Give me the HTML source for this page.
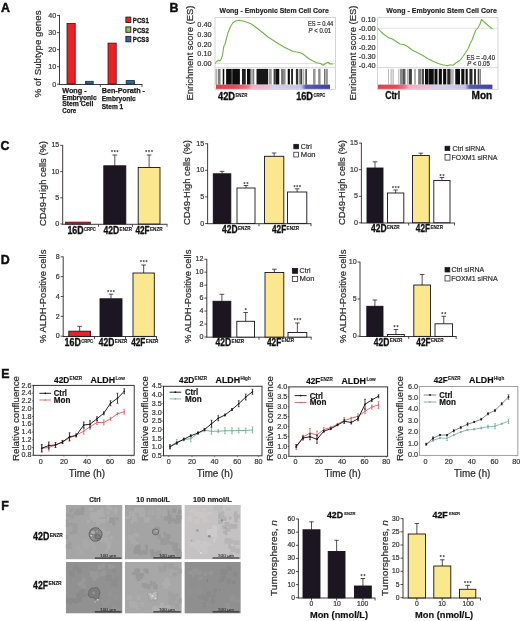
<!DOCTYPE html>
<html lang="en"><head><meta charset="utf-8"><title>Figure: stem cell signatures, CD49 / ALDH, confluence and tumorspheres</title>
<style>html,body{margin:0;padding:0;background:#fff}body{width:520px;height:621px;overflow:hidden}svg{display:block;font-family:"Liberation Sans", sans-serif}</style></head><body>
<svg width="520" height="621" viewBox="0 0 520 621">
<defs>
<linearGradient id="gbar1" x1="0" x2="1" y1="0" y2="0"><stop offset="0.000" stop-color="#e0404b"/><stop offset="0.175" stop-color="#e44c58"/><stop offset="0.281" stop-color="#ea7886"/><stop offset="0.316" stop-color="#f0b0c6"/><stop offset="0.456" stop-color="#efbbd0"/><stop offset="0.500" stop-color="#d6cfe8"/><stop offset="0.746" stop-color="#c6c4e4"/><stop offset="0.789" stop-color="#5557b4"/><stop offset="1.000" stop-color="#3f41a6"/></linearGradient>
<linearGradient id="gbar2" x1="0" x2="1" y1="0" y2="0"><stop offset="0.000" stop-color="#e0404b"/><stop offset="0.157" stop-color="#e44c58"/><stop offset="0.236" stop-color="#ea7886"/><stop offset="0.271" stop-color="#f0b0c6"/><stop offset="0.437" stop-color="#efbbd0"/><stop offset="0.490" stop-color="#d6cfe8"/><stop offset="0.760" stop-color="#c6c4e4"/><stop offset="0.804" stop-color="#5557b4"/><stop offset="1.000" stop-color="#3f41a6"/></linearGradient>
<filter id="soft" x="-5%" y="-5%" width="110%" height="110%"><feGaussianBlur stdDeviation="0.35"/></filter>
<filter id="blob" x="-20%" y="-20%" width="140%" height="140%"><feGaussianBlur stdDeviation="0.7"/></filter>
<filter id="blob2" x="-20%" y="-20%" width="140%" height="140%"><feGaussianBlur stdDeviation="0.5"/></filter>
</defs>
<rect width="520" height="621" fill="#fff"/>
<g filter="url(#soft)">
<g id="panelA">
<text x="0.90" y="11.90" font-size="12.4" font-weight="bold" fill="#0c0c0c" stroke="#0c0c0c" stroke-width="0.45">A</text>
<text x="40.62" y="54.00" font-size="9.3" text-anchor="middle" textLength="87.00" lengthAdjust="spacingAndGlyphs" fill="#2b2b2b" stroke="#2b2b2b" stroke-width="0.22" transform="rotate(-90 40.62 54.00)">% of Subtype genes</text>
<line x1="59.50" y1="14.90" x2="59.50" y2="84.80" stroke="#2a2627" stroke-width="0.9"/>
<line x1="57.00" y1="15.50" x2="59.50" y2="15.50" stroke="#2a2627" stroke-width="0.8"/>
<text x="56.10" y="18.22" font-size="8" text-anchor="end" textLength="7.92" lengthAdjust="spacingAndGlyphs" fill="#333" stroke="#333" stroke-width="0.22">40</text>
<line x1="57.00" y1="32.60" x2="59.50" y2="32.60" stroke="#2a2627" stroke-width="0.8"/>
<text x="56.10" y="35.32" font-size="8" text-anchor="end" textLength="7.92" lengthAdjust="spacingAndGlyphs" fill="#333" stroke="#333" stroke-width="0.22">30</text>
<line x1="57.00" y1="49.70" x2="59.50" y2="49.70" stroke="#2a2627" stroke-width="0.8"/>
<text x="56.10" y="52.42" font-size="8" text-anchor="end" textLength="7.92" lengthAdjust="spacingAndGlyphs" fill="#333" stroke="#333" stroke-width="0.22">20</text>
<line x1="57.00" y1="66.70" x2="59.50" y2="66.70" stroke="#2a2627" stroke-width="0.8"/>
<text x="56.10" y="69.42" font-size="8" text-anchor="end" textLength="7.92" lengthAdjust="spacingAndGlyphs" fill="#333" stroke="#333" stroke-width="0.22">10</text>
<line x1="57.00" y1="84.20" x2="59.50" y2="84.20" stroke="#2a2627" stroke-width="0.8"/>
<text x="56.10" y="86.92" font-size="8" text-anchor="end" textLength="3.96" lengthAdjust="spacingAndGlyphs" fill="#333" stroke="#333" stroke-width="0.22">0</text>
<line x1="59.00" y1="84.50" x2="142.40" y2="84.50" stroke="#2a2627" stroke-width="0.9"/>
<line x1="100.30" y1="84.50" x2="100.30" y2="87.00" stroke="#2a2627" stroke-width="0.8"/>
<line x1="142.00" y1="84.50" x2="142.00" y2="87.00" stroke="#2a2627" stroke-width="0.8"/>
<rect x="67.00" y="23.40" width="8.20" height="60.60" fill="#ea2227" stroke="#3b1515" stroke-width="0.8"/>
<rect x="85.60" y="81.30" width="7.60" height="2.70" fill="#2d6b98" stroke="#12283a" stroke-width="0.8"/>
<rect x="108.00" y="43.10" width="8.20" height="40.90" fill="#ea2227" stroke="#3b1515" stroke-width="0.8"/>
<rect x="126.20" y="80.60" width="8.20" height="3.40" fill="#2d6b98" stroke="#12283a" stroke-width="0.8"/>
<rect x="125.90" y="17.10" width="4.90" height="5.40" fill="#ea2227" stroke="#2a1a1a" stroke-width="0.9"/>
<text x="132.80" y="22.70" font-size="7.2" font-weight="bold" textLength="16.00" lengthAdjust="spacingAndGlyphs" fill="#161616" stroke="#161616" stroke-width="0.3">PCS1</text>
<rect x="125.90" y="26.90" width="4.90" height="5.40" fill="#8cc152" stroke="#2a1a1a" stroke-width="0.9"/>
<text x="132.80" y="32.50" font-size="7.2" font-weight="bold" textLength="16.00" lengthAdjust="spacingAndGlyphs" fill="#161616" stroke="#161616" stroke-width="0.3">PCS2</text>
<rect x="125.90" y="36.40" width="4.90" height="5.40" fill="#2d6b98" stroke="#2a1a1a" stroke-width="0.9"/>
<text x="132.80" y="42.00" font-size="7.2" font-weight="bold" textLength="16.00" lengthAdjust="spacingAndGlyphs" fill="#161616" stroke="#161616" stroke-width="0.3">PCS3</text>
<text x="62.20" y="92.60" font-size="7.5" font-weight="bold" textLength="24.50" lengthAdjust="spacingAndGlyphs" fill="#161616" stroke="#161616" stroke-width="0.25">Wong -</text>
<text x="62.20" y="99.50" font-size="7.5" font-weight="bold" textLength="34.40" lengthAdjust="spacingAndGlyphs" fill="#161616" stroke="#161616" stroke-width="0.25">Embryonic</text>
<text x="62.20" y="106.40" font-size="7.5" font-weight="bold" textLength="31.20" lengthAdjust="spacingAndGlyphs" fill="#161616" stroke="#161616" stroke-width="0.25">Stem Cell</text>
<text x="62.20" y="113.30" font-size="7.5" font-weight="bold" textLength="14.00" lengthAdjust="spacingAndGlyphs" fill="#161616" stroke="#161616" stroke-width="0.25">Core</text>
<text x="101.70" y="93.40" font-size="7.5" font-weight="bold" textLength="43.30" lengthAdjust="spacingAndGlyphs" fill="#161616" stroke="#161616" stroke-width="0.25">Ben-Porath -</text>
<text x="101.70" y="101.20" font-size="7.5" font-weight="bold" textLength="34.00" lengthAdjust="spacingAndGlyphs" fill="#161616" stroke="#161616" stroke-width="0.25">Embryonic</text>
<text x="101.70" y="109.00" font-size="7.5" font-weight="bold" textLength="21.50" lengthAdjust="spacingAndGlyphs" fill="#161616" stroke="#161616" stroke-width="0.25">Stem 1</text>
</g>
<text x="169.60" y="11.90" font-size="12.4" font-weight="bold" fill="#0c0c0c" stroke="#0c0c0c" stroke-width="0.45">B</text>
<g id="panelB1">
<text x="193.37" y="53.00" font-size="9.9" text-anchor="middle" textLength="95.00" lengthAdjust="spacingAndGlyphs" fill="#2b2b2b" stroke="#2b2b2b" stroke-width="0.22" transform="rotate(-90 193.37 53.00)">Enrichment score (ES)</text>
<text x="211.60" y="26.55" font-size="8" text-anchor="end" textLength="14.30" lengthAdjust="spacingAndGlyphs" fill="#333" stroke="#333" stroke-width="0.22">0.40</text>
<text x="211.60" y="36.55" font-size="8" text-anchor="end" textLength="14.30" lengthAdjust="spacingAndGlyphs" fill="#333" stroke="#333" stroke-width="0.22">0.30</text>
<text x="211.60" y="46.50" font-size="8" text-anchor="end" textLength="14.30" lengthAdjust="spacingAndGlyphs" fill="#333" stroke="#333" stroke-width="0.22">0.20</text>
<text x="211.60" y="56.40" font-size="8" text-anchor="end" textLength="14.30" lengthAdjust="spacingAndGlyphs" fill="#333" stroke="#333" stroke-width="0.22">0.10</text>
<text x="211.60" y="66.30" font-size="8" text-anchor="end" textLength="14.30" lengthAdjust="spacingAndGlyphs" fill="#333" stroke="#333" stroke-width="0.22">0.00</text>
<rect x="215.00" y="17.50" width="120.50" height="72.10" fill="none" stroke="#c4c4c4" stroke-width="0.7"/>
<line x1="215.00" y1="67.60" x2="335.50" y2="67.60" stroke="#c9c9c9" stroke-width="0.7"/>
<line x1="215.00" y1="63.50" x2="335.50" y2="63.50" stroke="#cfcfcf" stroke-width="0.6"/>
<text x="219.50" y="13.00" font-size="7.8" font-weight="bold" textLength="109.30" lengthAdjust="spacingAndGlyphs" fill="#222" stroke="#222" stroke-width="0.18">Wong - Embyonic Stem Cell Core</text>
<rect x="215.50" y="68.9" width="1.90" height="15.8" fill="#101010" opacity="0.30"/>
<rect x="218.00" y="68.9" width="2.50" height="15.8" fill="#101010" opacity="0.55"/>
<rect x="222.75" y="68.9" width="1.50" height="15.8" fill="#101010" opacity="1.00"/>
<rect x="226.10" y="68.9" width="5.65" height="15.8" fill="#101010" opacity="1.00"/>
<rect x="231.75" y="68.9" width="1.25" height="15.8" fill="#101010" opacity="0.80"/>
<rect x="233.00" y="68.9" width="6.90" height="15.8" fill="#101010" opacity="1.00"/>
<rect x="242.00" y="68.9" width="3.75" height="15.8" fill="#101010" opacity="0.92"/>
<rect x="247.00" y="68.9" width="3.50" height="15.8" fill="#101010" opacity="1.00"/>
<rect x="250.50" y="68.9" width="1.50" height="15.8" fill="#101010" opacity="0.35"/>
<rect x="252.40" y="68.9" width="1.85" height="15.8" fill="#101010" opacity="0.55"/>
<rect x="256.50" y="68.9" width="11.50" height="15.8" fill="#101010" opacity="0.96"/>
<rect x="268.60" y="68.9" width="3.15" height="15.8" fill="#101010" opacity="0.40"/>
<rect x="273.60" y="68.9" width="1.90" height="15.8" fill="#101010" opacity="0.80"/>
<rect x="275.50" y="68.9" width="3.75" height="15.8" fill="#101010" opacity="1.00"/>
<rect x="281.10" y="68.9" width="1.90" height="15.8" fill="#101010" opacity="0.60"/>
<rect x="283.00" y="68.9" width="2.50" height="15.8" fill="#101010" opacity="0.50"/>
<rect x="287.75" y="68.9" width="2.15" height="15.8" fill="#101010" opacity="1.00"/>
<rect x="291.10" y="68.9" width="1.90" height="15.8" fill="#101010" opacity="0.90"/>
<rect x="295.90" y="68.9" width="2.10" height="15.8" fill="#101010" opacity="0.85"/>
<rect x="298.60" y="68.9" width="1.30" height="15.8" fill="#101010" opacity="0.50"/>
<rect x="300.25" y="68.9" width="1.75" height="15.8" fill="#101010" opacity="0.80"/>
<rect x="302.40" y="68.9" width="1.85" height="15.8" fill="#101010" opacity="0.30"/>
<rect x="305.25" y="68.9" width="1.75" height="15.8" fill="#101010" opacity="0.70"/>
<rect x="313.00" y="68.9" width="2.50" height="15.8" fill="#101010" opacity="0.45"/>
<rect x="318.25" y="68.9" width="2.25" height="15.8" fill="#101010" opacity="0.50"/>
<rect x="324.00" y="68.9" width="1.50" height="15.8" fill="#101010" opacity="0.60"/>
<rect x="326.10" y="68.9" width="1.65" height="15.8" fill="#101010" opacity="0.50"/>
<rect x="216.00" y="84.60" width="114.00" height="4.30" fill="url(#gbar1)" stroke="none" stroke-width="0.8"/>
<polyline points="215.00,63.50 216.75,61.50 218.50,60.25 220.00,61.00 221.25,59.00 222.50,55.25 223.75,46.50 225.00,44.00 226.00,40.25 228.00,32.75 230.50,26.50 233.00,22.75 235.50,21.00 239.25,20.25 243.00,21.00 246.75,22.25 250.50,23.50 254.25,26.00 258.00,29.00 263.00,32.75 268.00,37.00 273.00,40.25 278.00,43.50 283.00,46.50 288.00,49.00 293.00,51.50 298.00,52.25 301.75,53.25 305.50,56.00 309.25,59.00 313.00,61.00 316.75,62.75 320.50,63.50 323.00,65.25 325.50,63.50 328.00,62.25 330.00,64.00 333.00,64.00" fill="none" stroke="#6fb544" stroke-width="1.1" stroke-linejoin="round"/>
<text x="308.00" y="26.30" font-size="6.4" textLength="25.30" lengthAdjust="spacingAndGlyphs" fill="#333" stroke="#333" stroke-width="0.22">ES = 0.44</text>
<text x="308.60" y="33.30" font-size="6.4" textLength="22.50" lengthAdjust="spacingAndGlyphs" fill="#333" stroke="#333" stroke-width="0.22"><tspan font-style="italic">P</tspan> &lt; 0.01</text>
<text x="218.00" y="100.30" font-size="10" font-weight="bold" textLength="17.00" lengthAdjust="spacingAndGlyphs" fill="#0e0e0e" stroke="#0e0e0e" stroke-width="0.3">42D</text>
<text x="235.40" y="97.00" font-size="4.9" font-weight="bold" textLength="12.00" lengthAdjust="spacingAndGlyphs" fill="#1c1c1c" stroke="#1c1c1c" stroke-width="0.15">ENZR</text>
<text x="296.20" y="100.30" font-size="10" font-weight="bold" textLength="16.80" lengthAdjust="spacingAndGlyphs" fill="#0e0e0e" stroke="#0e0e0e" stroke-width="0.3">16D</text>
<text x="313.40" y="97.00" font-size="4.9" font-weight="bold" textLength="11.80" lengthAdjust="spacingAndGlyphs" fill="#1c1c1c" stroke="#1c1c1c" stroke-width="0.15">CRPC</text>
</g>
<g id="panelB2">
<text x="356.37" y="53.00" font-size="9.9" text-anchor="middle" textLength="95.00" lengthAdjust="spacingAndGlyphs" fill="#2b2b2b" stroke="#2b2b2b" stroke-width="0.22" transform="rotate(-90 356.37 53.00)">Enrichment score (ES)</text>
<text x="375.60" y="22.30" font-size="8" text-anchor="end" textLength="14.30" lengthAdjust="spacingAndGlyphs" fill="#333" stroke="#333" stroke-width="0.22">0.10</text>
<text x="375.60" y="31.05" font-size="8" text-anchor="end" textLength="16.80" lengthAdjust="spacingAndGlyphs" fill="#333" stroke="#333" stroke-width="0.22">-0.00</text>
<text x="375.60" y="40.30" font-size="8" text-anchor="end" textLength="16.80" lengthAdjust="spacingAndGlyphs" fill="#333" stroke="#333" stroke-width="0.22">-0.10</text>
<text x="375.60" y="49.55" font-size="8" text-anchor="end" textLength="16.80" lengthAdjust="spacingAndGlyphs" fill="#333" stroke="#333" stroke-width="0.22">-0.20</text>
<text x="375.60" y="58.80" font-size="8" text-anchor="end" textLength="16.80" lengthAdjust="spacingAndGlyphs" fill="#333" stroke="#333" stroke-width="0.22">-0.30</text>
<text x="375.60" y="68.20" font-size="8" text-anchor="end" textLength="16.80" lengthAdjust="spacingAndGlyphs" fill="#333" stroke="#333" stroke-width="0.22">-0.40</text>
<rect x="377.50" y="17.50" width="120.50" height="72.10" fill="none" stroke="#c4c4c4" stroke-width="0.7"/>
<line x1="377.50" y1="67.60" x2="498.00" y2="67.60" stroke="#c9c9c9" stroke-width="0.7"/>
<line x1="377.50" y1="28.30" x2="498.00" y2="28.30" stroke="#cfcfcf" stroke-width="0.6"/>
<text x="386.30" y="12.60" font-size="7.8" font-weight="bold" textLength="110.50" lengthAdjust="spacingAndGlyphs" fill="#222" stroke="#222" stroke-width="0.18">Wong - Embyonic Stem Cell Core</text>
<rect x="388.10" y="68.9" width="0.90" height="15.8" fill="#101010" opacity="0.30"/>
<rect x="390.60" y="68.9" width="1.00" height="15.8" fill="#101010" opacity="0.35"/>
<rect x="392.50" y="68.9" width="1.25" height="15.8" fill="#101010" opacity="0.30"/>
<rect x="398.10" y="68.9" width="1.30" height="15.8" fill="#101010" opacity="0.25"/>
<rect x="400.00" y="68.9" width="3.00" height="15.8" fill="#101010" opacity="0.50"/>
<rect x="403.00" y="68.9" width="2.00" height="15.8" fill="#101010" opacity="0.70"/>
<rect x="405.00" y="68.9" width="0.60" height="15.8" fill="#101010" opacity="0.50"/>
<rect x="406.90" y="68.9" width="1.20" height="15.8" fill="#101010" opacity="0.30"/>
<rect x="408.75" y="68.9" width="3.15" height="15.8" fill="#101010" opacity="0.80"/>
<rect x="414.40" y="68.9" width="1.20" height="15.8" fill="#101010" opacity="0.50"/>
<rect x="418.10" y="68.9" width="3.40" height="15.8" fill="#101010" opacity="0.55"/>
<rect x="422.25" y="68.9" width="1.50" height="15.8" fill="#101010" opacity="1.00"/>
<rect x="425.00" y="68.9" width="3.10" height="15.8" fill="#101010" opacity="1.00"/>
<rect x="428.10" y="68.9" width="0.90" height="15.8" fill="#101010" opacity="0.60"/>
<rect x="429.00" y="68.9" width="4.75" height="15.8" fill="#101010" opacity="1.00"/>
<rect x="433.75" y="68.9" width="1.00" height="15.8" fill="#101010" opacity="0.60"/>
<rect x="434.75" y="68.9" width="2.75" height="15.8" fill="#101010" opacity="1.00"/>
<rect x="438.75" y="68.9" width="3.15" height="15.8" fill="#101010" opacity="1.00"/>
<rect x="443.10" y="68.9" width="3.15" height="15.8" fill="#101010" opacity="1.00"/>
<rect x="447.25" y="68.9" width="3.35" height="15.8" fill="#101010" opacity="0.90"/>
<rect x="451.00" y="68.9" width="2.75" height="15.8" fill="#101010" opacity="0.30"/>
<rect x="455.25" y="68.9" width="4.75" height="15.8" fill="#101010" opacity="1.00"/>
<rect x="461.25" y="68.9" width="3.15" height="15.8" fill="#101010" opacity="1.00"/>
<rect x="465.60" y="68.9" width="2.15" height="15.8" fill="#101010" opacity="1.00"/>
<rect x="469.40" y="68.9" width="3.10" height="15.8" fill="#101010" opacity="0.90"/>
<rect x="474.00" y="68.9" width="2.00" height="15.8" fill="#101010" opacity="0.85"/>
<rect x="477.75" y="68.9" width="1.25" height="15.8" fill="#101010" opacity="0.80"/>
<rect x="479.40" y="68.9" width="1.60" height="15.8" fill="#101010" opacity="0.50"/>
<rect x="378.00" y="84.60" width="114.40" height="4.30" fill="url(#gbar2)" stroke="none" stroke-width="0.8"/>
<polyline points="378.00,28.50 381.25,32.00 385.00,35.25 388.75,37.75 392.50,39.00 396.25,41.50 400.00,44.00 403.75,44.50 407.50,46.50 412.50,50.25 417.50,52.75 422.50,55.25 427.50,58.50 432.50,61.00 437.50,63.25 442.50,64.75 447.50,65.75 450.00,64.75 453.00,65.25 456.25,62.75 460.00,60.25 463.00,56.50 465.50,52.75 468.00,49.00 470.00,44.00 472.00,40.25 473.75,35.25 475.75,30.25 478.00,27.75 480.00,24.00 481.50,19.50 485.00,22.75 488.75,26.00 492.50,29.00" fill="none" stroke="#6fb544" stroke-width="1.1" stroke-linejoin="round"/>
<text x="466.60" y="59.60" font-size="6.4" textLength="28.40" lengthAdjust="spacingAndGlyphs" fill="#333" stroke="#333" stroke-width="0.22">ES = -0.40</text>
<text x="467.30" y="66.40" font-size="6.4" textLength="22.50" lengthAdjust="spacingAndGlyphs" fill="#333" stroke="#333" stroke-width="0.22"><tspan font-style="italic">P</tspan> &lt; 0.05</text>
<text x="385.20" y="98.80" font-size="10" font-weight="bold" textLength="15.00" lengthAdjust="spacingAndGlyphs" fill="#0e0e0e" stroke="#0e0e0e" stroke-width="0.3">Ctrl</text>
<text x="471.60" y="98.80" font-size="10" font-weight="bold" textLength="20.60" lengthAdjust="spacingAndGlyphs" fill="#0e0e0e" stroke="#0e0e0e" stroke-width="0.3">Mon</text>
</g>
<g id="panelC">
<text x="0.60" y="150.40" font-size="12.4" font-weight="bold" fill="#0c0c0c" stroke="#0c0c0c" stroke-width="0.45">C</text>
<text x="46.04" y="183.50" font-size="9.4" text-anchor="middle" textLength="85.00" lengthAdjust="spacingAndGlyphs" fill="#2b2b2b" stroke="#2b2b2b" stroke-width="0.22" transform="rotate(-90 46.04 183.50)">CD49-High cells (%)</text>
<line x1="62.70" y1="145.00" x2="62.70" y2="224.40" stroke="#2a2627" stroke-width="0.9"/>
<line x1="60.20" y1="145.30" x2="62.70" y2="145.30" stroke="#2a2627" stroke-width="0.8"/>
<text x="59.30" y="147.46" font-size="8" text-anchor="end" textLength="7.92" lengthAdjust="spacingAndGlyphs" fill="#333" stroke="#333" stroke-width="0.22">15</text>
<line x1="60.20" y1="171.60" x2="62.70" y2="171.60" stroke="#2a2627" stroke-width="0.8"/>
<text x="59.30" y="173.76" font-size="8" text-anchor="end" textLength="7.92" lengthAdjust="spacingAndGlyphs" fill="#333" stroke="#333" stroke-width="0.22">10</text>
<line x1="60.20" y1="197.80" x2="62.70" y2="197.80" stroke="#2a2627" stroke-width="0.8"/>
<text x="59.30" y="199.96" font-size="8" text-anchor="end" textLength="3.96" lengthAdjust="spacingAndGlyphs" fill="#333" stroke="#333" stroke-width="0.22">5</text>
<line x1="60.20" y1="224.00" x2="62.70" y2="224.00" stroke="#2a2627" stroke-width="0.8"/>
<text x="59.30" y="226.16" font-size="8" text-anchor="end" textLength="3.96" lengthAdjust="spacingAndGlyphs" fill="#333" stroke="#333" stroke-width="0.22">0</text>
<line x1="62.30" y1="224.30" x2="167.40" y2="224.30" stroke="#2a2627" stroke-width="0.9"/>
<line x1="98.50" y1="224.30" x2="98.50" y2="226.80" stroke="#2a2627" stroke-width="0.8"/>
<line x1="132.50" y1="224.30" x2="132.50" y2="226.80" stroke="#2a2627" stroke-width="0.8"/>
<line x1="167.00" y1="224.30" x2="167.00" y2="226.80" stroke="#2a2627" stroke-width="0.8"/>
<rect x="65.60" y="222.10" width="24.80" height="1.90" fill="#ea2227" stroke="#18121a" stroke-width="0.7"/>
<line x1="114.80" y1="155.00" x2="114.80" y2="165.80" stroke="#2a2627" stroke-width="0.8"/>
<line x1="112.50" y1="155.00" x2="117.10" y2="155.00" stroke="#2a2627" stroke-width="0.8"/>
<rect x="103.80" y="165.80" width="22.00" height="58.20" fill="#1c1320" stroke="#18121a" stroke-width="0.9"/>
<text x="114.80" y="153.80" font-size="5.0" font-weight="bold" text-anchor="middle" textLength="7.50" lengthAdjust="spacing" fill="#3a3a3a" stroke="#3a3a3a" stroke-width="0.1">***</text>
<line x1="149.10" y1="155.00" x2="149.10" y2="167.50" stroke="#2a2627" stroke-width="0.8"/>
<line x1="146.80" y1="155.00" x2="151.40" y2="155.00" stroke="#2a2627" stroke-width="0.8"/>
<rect x="138.20" y="167.50" width="21.80" height="56.50" fill="#fbe78d" stroke="#18121a" stroke-width="0.9"/>
<text x="149.10" y="154.10" font-size="5.0" font-weight="bold" text-anchor="middle" textLength="7.50" lengthAdjust="spacing" fill="#3a3a3a" stroke="#3a3a3a" stroke-width="0.1">***</text>
<text x="67.40" y="233.80" font-size="10" font-weight="bold" textLength="16.20" lengthAdjust="spacingAndGlyphs" fill="#0e0e0e" stroke="#0e0e0e" stroke-width="0.3">16D</text>
<text x="84.00" y="230.50" font-size="4.9" font-weight="bold" textLength="11.80" lengthAdjust="spacingAndGlyphs" fill="#1c1c1c" stroke="#1c1c1c" stroke-width="0.15">CRPC</text>
<text x="103.60" y="233.80" font-size="10" font-weight="bold" textLength="15.60" lengthAdjust="spacingAndGlyphs" fill="#0e0e0e" stroke="#0e0e0e" stroke-width="0.3">42D</text>
<text x="119.60" y="230.50" font-size="4.9" font-weight="bold" textLength="12.60" lengthAdjust="spacingAndGlyphs" fill="#1c1c1c" stroke="#1c1c1c" stroke-width="0.15">ENZR</text>
<text x="135.40" y="233.80" font-size="10" font-weight="bold" textLength="14.20" lengthAdjust="spacingAndGlyphs" fill="#0e0e0e" stroke="#0e0e0e" stroke-width="0.3">42F</text>
<text x="150.00" y="230.50" font-size="4.9" font-weight="bold" textLength="12.60" lengthAdjust="spacingAndGlyphs" fill="#1c1c1c" stroke="#1c1c1c" stroke-width="0.15">ENZR</text>
<text x="190.44" y="182.50" font-size="9.4" text-anchor="middle" textLength="85.00" lengthAdjust="spacingAndGlyphs" fill="#2b2b2b" stroke="#2b2b2b" stroke-width="0.22" transform="rotate(-90 190.44 182.50)">CD49-High cells (%)</text>
<line x1="207.60" y1="143.40" x2="207.60" y2="223.90" stroke="#2a2627" stroke-width="0.9"/>
<line x1="205.10" y1="143.70" x2="207.60" y2="143.70" stroke="#2a2627" stroke-width="0.8"/>
<text x="204.20" y="145.86" font-size="8" text-anchor="end" textLength="7.92" lengthAdjust="spacingAndGlyphs" fill="#333" stroke="#333" stroke-width="0.22">15</text>
<line x1="205.10" y1="170.30" x2="207.60" y2="170.30" stroke="#2a2627" stroke-width="0.8"/>
<text x="204.20" y="172.46" font-size="8" text-anchor="end" textLength="7.92" lengthAdjust="spacingAndGlyphs" fill="#333" stroke="#333" stroke-width="0.22">10</text>
<line x1="205.10" y1="196.90" x2="207.60" y2="196.90" stroke="#2a2627" stroke-width="0.8"/>
<text x="204.20" y="199.06" font-size="8" text-anchor="end" textLength="3.96" lengthAdjust="spacingAndGlyphs" fill="#333" stroke="#333" stroke-width="0.22">5</text>
<line x1="205.10" y1="223.50" x2="207.60" y2="223.50" stroke="#2a2627" stroke-width="0.8"/>
<text x="204.20" y="225.66" font-size="8" text-anchor="end" textLength="3.96" lengthAdjust="spacingAndGlyphs" fill="#333" stroke="#333" stroke-width="0.22">0</text>
<line x1="207.20" y1="223.70" x2="311.40" y2="223.70" stroke="#2a2627" stroke-width="0.9"/>
<line x1="259.00" y1="223.70" x2="259.00" y2="226.20" stroke="#2a2627" stroke-width="0.8"/>
<line x1="311.00" y1="223.70" x2="311.00" y2="226.20" stroke="#2a2627" stroke-width="0.8"/>
<line x1="222.05" y1="171.30" x2="222.05" y2="173.80" stroke="#2a2627" stroke-width="0.8"/>
<line x1="219.75" y1="171.30" x2="224.35" y2="171.30" stroke="#2a2627" stroke-width="0.8"/>
<rect x="213.30" y="173.80" width="17.50" height="49.60" fill="#1c1320" stroke="#18121a" stroke-width="0.9"/>
<line x1="246.00" y1="185.50" x2="246.00" y2="188.00" stroke="#2a2627" stroke-width="0.8"/>
<line x1="243.70" y1="185.50" x2="248.30" y2="185.50" stroke="#2a2627" stroke-width="0.8"/>
<rect x="237.00" y="188.00" width="18.00" height="35.40" fill="#fff" stroke="#18121a" stroke-width="0.9"/>
<text x="246.00" y="185.90" font-size="5.0" font-weight="bold" text-anchor="middle" textLength="5.00" lengthAdjust="spacing" fill="#3a3a3a" stroke="#3a3a3a" stroke-width="0.1">**</text>
<line x1="274.15" y1="153.00" x2="274.15" y2="156.30" stroke="#2a2627" stroke-width="0.8"/>
<line x1="271.85" y1="153.00" x2="276.45" y2="153.00" stroke="#2a2627" stroke-width="0.8"/>
<rect x="264.50" y="156.30" width="19.30" height="67.10" fill="#fbe78d" stroke="#18121a" stroke-width="0.9"/>
<line x1="297.15" y1="188.80" x2="297.15" y2="192.00" stroke="#2a2627" stroke-width="0.8"/>
<line x1="294.85" y1="188.80" x2="299.45" y2="188.80" stroke="#2a2627" stroke-width="0.8"/>
<rect x="287.50" y="192.00" width="19.30" height="31.40" fill="#fff" stroke="#18121a" stroke-width="0.9"/>
<text x="297.15" y="188.60" font-size="5.0" font-weight="bold" text-anchor="middle" textLength="7.50" lengthAdjust="spacing" fill="#3a3a3a" stroke="#3a3a3a" stroke-width="0.1">***</text>
<text x="222.00" y="233.00" font-size="10" font-weight="bold" textLength="15.60" lengthAdjust="spacingAndGlyphs" fill="#0e0e0e" stroke="#0e0e0e" stroke-width="0.3">42D</text>
<text x="238.00" y="229.70" font-size="4.9" font-weight="bold" textLength="12.60" lengthAdjust="spacingAndGlyphs" fill="#1c1c1c" stroke="#1c1c1c" stroke-width="0.15">ENZR</text>
<text x="272.00" y="233.00" font-size="10" font-weight="bold" textLength="14.20" lengthAdjust="spacingAndGlyphs" fill="#0e0e0e" stroke="#0e0e0e" stroke-width="0.3">42F</text>
<text x="286.60" y="229.70" font-size="4.9" font-weight="bold" textLength="12.60" lengthAdjust="spacingAndGlyphs" fill="#1c1c1c" stroke="#1c1c1c" stroke-width="0.15">ENZR</text>
<rect x="293.80" y="144.30" width="4.80" height="4.50" fill="#1c1320" stroke="#18121a" stroke-width="0.7"/>
<text x="300.80" y="148.90" font-size="7.4" textLength="11.00" lengthAdjust="spacingAndGlyphs" fill="#333" stroke="#333" stroke-width="0.22">Ctrl</text>
<rect x="293.80" y="152.20" width="4.80" height="4.80" fill="#fff" stroke="#18121a" stroke-width="0.7"/>
<text x="300.80" y="156.90" font-size="7.4" textLength="14.80" lengthAdjust="spacingAndGlyphs" fill="#333" stroke="#333" stroke-width="0.22">Mon</text>
<text x="345.44" y="182.50" font-size="9.4" text-anchor="middle" textLength="85.00" lengthAdjust="spacingAndGlyphs" fill="#2b2b2b" stroke="#2b2b2b" stroke-width="0.22" transform="rotate(-90 345.44 182.50)">CD49-High cells (%)</text>
<line x1="361.40" y1="142.80" x2="361.40" y2="223.20" stroke="#2a2627" stroke-width="0.9"/>
<line x1="358.90" y1="143.10" x2="361.40" y2="143.10" stroke="#2a2627" stroke-width="0.8"/>
<text x="358.00" y="145.26" font-size="8" text-anchor="end" textLength="7.92" lengthAdjust="spacingAndGlyphs" fill="#333" stroke="#333" stroke-width="0.22">15</text>
<line x1="358.90" y1="169.70" x2="361.40" y2="169.70" stroke="#2a2627" stroke-width="0.8"/>
<text x="358.00" y="171.86" font-size="8" text-anchor="end" textLength="7.92" lengthAdjust="spacingAndGlyphs" fill="#333" stroke="#333" stroke-width="0.22">10</text>
<line x1="358.90" y1="196.30" x2="361.40" y2="196.30" stroke="#2a2627" stroke-width="0.8"/>
<text x="358.00" y="198.46" font-size="8" text-anchor="end" textLength="3.96" lengthAdjust="spacingAndGlyphs" fill="#333" stroke="#333" stroke-width="0.22">5</text>
<line x1="358.90" y1="222.80" x2="361.40" y2="222.80" stroke="#2a2627" stroke-width="0.8"/>
<text x="358.00" y="224.96" font-size="8" text-anchor="end" textLength="3.96" lengthAdjust="spacingAndGlyphs" fill="#333" stroke="#333" stroke-width="0.22">0</text>
<line x1="361.00" y1="223.00" x2="454.90" y2="223.00" stroke="#2a2627" stroke-width="0.9"/>
<line x1="408.60" y1="223.00" x2="408.60" y2="225.50" stroke="#2a2627" stroke-width="0.8"/>
<line x1="454.50" y1="223.00" x2="454.50" y2="225.50" stroke="#2a2627" stroke-width="0.8"/>
<line x1="375.00" y1="161.80" x2="375.00" y2="168.00" stroke="#2a2627" stroke-width="0.8"/>
<line x1="372.70" y1="161.80" x2="377.30" y2="161.80" stroke="#2a2627" stroke-width="0.8"/>
<rect x="367.00" y="168.00" width="16.00" height="54.70" fill="#1c1320" stroke="#18121a" stroke-width="0.9"/>
<line x1="395.65" y1="190.00" x2="395.65" y2="193.00" stroke="#2a2627" stroke-width="0.8"/>
<line x1="393.35" y1="190.00" x2="397.95" y2="190.00" stroke="#2a2627" stroke-width="0.8"/>
<rect x="387.50" y="193.00" width="16.30" height="29.70" fill="#fff" stroke="#18121a" stroke-width="0.9"/>
<text x="395.65" y="190.10" font-size="5.0" font-weight="bold" text-anchor="middle" textLength="7.50" lengthAdjust="spacing" fill="#3a3a3a" stroke="#3a3a3a" stroke-width="0.1">***</text>
<line x1="420.90" y1="153.20" x2="420.90" y2="155.50" stroke="#2a2627" stroke-width="0.8"/>
<line x1="418.60" y1="153.20" x2="423.20" y2="153.20" stroke="#2a2627" stroke-width="0.8"/>
<rect x="412.50" y="155.50" width="16.80" height="67.20" fill="#fbe78d" stroke="#18121a" stroke-width="0.9"/>
<line x1="441.90" y1="177.50" x2="441.90" y2="180.50" stroke="#2a2627" stroke-width="0.8"/>
<line x1="439.60" y1="177.50" x2="444.20" y2="177.50" stroke="#2a2627" stroke-width="0.8"/>
<rect x="433.80" y="180.50" width="16.20" height="42.20" fill="#fff" stroke="#18121a" stroke-width="0.9"/>
<text x="441.90" y="178.10" font-size="5.0" font-weight="bold" text-anchor="middle" textLength="5.00" lengthAdjust="spacing" fill="#3a3a3a" stroke="#3a3a3a" stroke-width="0.1">**</text>
<text x="371.00" y="232.20" font-size="10" font-weight="bold" textLength="15.60" lengthAdjust="spacingAndGlyphs" fill="#0e0e0e" stroke="#0e0e0e" stroke-width="0.3">42D</text>
<text x="387.00" y="228.90" font-size="4.9" font-weight="bold" textLength="12.60" lengthAdjust="spacingAndGlyphs" fill="#1c1c1c" stroke="#1c1c1c" stroke-width="0.15">ENZR</text>
<text x="415.80" y="232.20" font-size="10" font-weight="bold" textLength="14.20" lengthAdjust="spacingAndGlyphs" fill="#0e0e0e" stroke="#0e0e0e" stroke-width="0.3">42F</text>
<text x="430.40" y="228.90" font-size="4.9" font-weight="bold" textLength="12.60" lengthAdjust="spacingAndGlyphs" fill="#1c1c1c" stroke="#1c1c1c" stroke-width="0.15">ENZR</text>
<rect x="445.00" y="146.20" width="4.80" height="4.40" fill="#1c1320" stroke="#18121a" stroke-width="0.7"/>
<text x="452.50" y="150.60" font-size="7.4" textLength="32.50" lengthAdjust="spacingAndGlyphs" fill="#333" stroke="#333" stroke-width="0.22">Ctrl siRNA</text>
<rect x="445.00" y="154.60" width="5.00" height="5.50" fill="#fff" stroke="#18121a" stroke-width="0.7"/>
<text x="451.40" y="159.60" font-size="7.4" textLength="46.00" lengthAdjust="spacingAndGlyphs" fill="#333" stroke="#333" stroke-width="0.22">FOXM1 siRNA</text>
</g>
<g id="panelD">
<text x="0.80" y="263.70" font-size="12.4" font-weight="bold" fill="#0c0c0c" stroke="#0c0c0c" stroke-width="0.45">D</text>
<text x="46.04" y="296.30" font-size="9.4" text-anchor="middle" textLength="93.50" lengthAdjust="spacingAndGlyphs" fill="#2b2b2b" stroke="#2b2b2b" stroke-width="0.22" transform="rotate(-90 46.04 296.30)">% ALDH-Positive cells</text>
<line x1="63.20" y1="256.50" x2="63.20" y2="336.70" stroke="#2a2627" stroke-width="0.9"/>
<line x1="60.70" y1="256.80" x2="63.20" y2="256.80" stroke="#2a2627" stroke-width="0.8"/>
<text x="59.80" y="258.96" font-size="8" text-anchor="end" textLength="3.96" lengthAdjust="spacingAndGlyphs" fill="#333" stroke="#333" stroke-width="0.22">8</text>
<line x1="60.70" y1="276.70" x2="63.20" y2="276.70" stroke="#2a2627" stroke-width="0.8"/>
<text x="59.80" y="278.86" font-size="8" text-anchor="end" textLength="3.96" lengthAdjust="spacingAndGlyphs" fill="#333" stroke="#333" stroke-width="0.22">6</text>
<line x1="60.70" y1="296.50" x2="63.20" y2="296.50" stroke="#2a2627" stroke-width="0.8"/>
<text x="59.80" y="298.66" font-size="8" text-anchor="end" textLength="3.96" lengthAdjust="spacingAndGlyphs" fill="#333" stroke="#333" stroke-width="0.22">4</text>
<line x1="60.70" y1="316.40" x2="63.20" y2="316.40" stroke="#2a2627" stroke-width="0.8"/>
<text x="59.80" y="318.56" font-size="8" text-anchor="end" textLength="3.96" lengthAdjust="spacingAndGlyphs" fill="#333" stroke="#333" stroke-width="0.22">2</text>
<line x1="60.70" y1="336.20" x2="63.20" y2="336.20" stroke="#2a2627" stroke-width="0.8"/>
<text x="59.80" y="338.36" font-size="8" text-anchor="end" textLength="3.96" lengthAdjust="spacingAndGlyphs" fill="#333" stroke="#333" stroke-width="0.22">0</text>
<line x1="62.80" y1="336.50" x2="156.90" y2="336.50" stroke="#2a2627" stroke-width="0.9"/>
<line x1="94.50" y1="336.50" x2="94.50" y2="339.00" stroke="#2a2627" stroke-width="0.8"/>
<line x1="125.50" y1="336.50" x2="125.50" y2="339.00" stroke="#2a2627" stroke-width="0.8"/>
<line x1="156.50" y1="336.50" x2="156.50" y2="339.00" stroke="#2a2627" stroke-width="0.8"/>
<line x1="79.65" y1="326.30" x2="79.65" y2="331.20" stroke="#2a2627" stroke-width="0.8"/>
<line x1="77.35" y1="326.30" x2="81.95" y2="326.30" stroke="#2a2627" stroke-width="0.8"/>
<rect x="68.80" y="331.20" width="21.70" height="5.20" fill="#ea2227" stroke="#18121a" stroke-width="0.9"/>
<line x1="111.00" y1="294.20" x2="111.00" y2="298.80" stroke="#2a2627" stroke-width="0.8"/>
<line x1="108.70" y1="294.20" x2="113.30" y2="294.20" stroke="#2a2627" stroke-width="0.8"/>
<rect x="100.00" y="298.80" width="22.00" height="37.60" fill="#1c1320" stroke="#18121a" stroke-width="0.9"/>
<text x="111.00" y="293.60" font-size="5.0" font-weight="bold" text-anchor="middle" textLength="7.50" lengthAdjust="spacing" fill="#3a3a3a" stroke="#3a3a3a" stroke-width="0.1">***</text>
<line x1="143.65" y1="265.00" x2="143.65" y2="273.00" stroke="#2a2627" stroke-width="0.8"/>
<line x1="141.35" y1="265.00" x2="145.95" y2="265.00" stroke="#2a2627" stroke-width="0.8"/>
<rect x="133.00" y="273.00" width="21.30" height="63.40" fill="#fbe78d" stroke="#18121a" stroke-width="0.9"/>
<text x="143.65" y="264.10" font-size="5.0" font-weight="bold" text-anchor="middle" textLength="7.50" lengthAdjust="spacing" fill="#3a3a3a" stroke="#3a3a3a" stroke-width="0.1">***</text>
<text x="64.60" y="346.30" font-size="10" font-weight="bold" textLength="16.20" lengthAdjust="spacingAndGlyphs" fill="#0e0e0e" stroke="#0e0e0e" stroke-width="0.3">16D</text>
<text x="81.20" y="343.00" font-size="4.9" font-weight="bold" textLength="11.80" lengthAdjust="spacingAndGlyphs" fill="#1c1c1c" stroke="#1c1c1c" stroke-width="0.15">CRPC</text>
<text x="98.80" y="346.30" font-size="10" font-weight="bold" textLength="15.60" lengthAdjust="spacingAndGlyphs" fill="#0e0e0e" stroke="#0e0e0e" stroke-width="0.3">42D</text>
<text x="114.80" y="343.00" font-size="4.9" font-weight="bold" textLength="12.60" lengthAdjust="spacingAndGlyphs" fill="#1c1c1c" stroke="#1c1c1c" stroke-width="0.15">ENZR</text>
<text x="131.20" y="346.30" font-size="10" font-weight="bold" textLength="14.20" lengthAdjust="spacingAndGlyphs" fill="#0e0e0e" stroke="#0e0e0e" stroke-width="0.3">42F</text>
<text x="145.80" y="343.00" font-size="4.9" font-weight="bold" textLength="12.60" lengthAdjust="spacingAndGlyphs" fill="#1c1c1c" stroke="#1c1c1c" stroke-width="0.15">ENZR</text>
<text x="191.14" y="296.30" font-size="9.4" text-anchor="middle" textLength="93.50" lengthAdjust="spacingAndGlyphs" fill="#2b2b2b" stroke="#2b2b2b" stroke-width="0.22" transform="rotate(-90 191.14 296.30)">% ALDH-Positive cells</text>
<line x1="206.80" y1="259.00" x2="206.80" y2="337.40" stroke="#2a2627" stroke-width="0.9"/>
<line x1="204.30" y1="259.30" x2="206.80" y2="259.30" stroke="#2a2627" stroke-width="0.8"/>
<text x="203.40" y="261.46" font-size="8" text-anchor="end" textLength="7.92" lengthAdjust="spacingAndGlyphs" fill="#333" stroke="#333" stroke-width="0.22">12</text>
<line x1="204.30" y1="272.20" x2="206.80" y2="272.20" stroke="#2a2627" stroke-width="0.8"/>
<text x="203.40" y="274.36" font-size="8" text-anchor="end" textLength="7.92" lengthAdjust="spacingAndGlyphs" fill="#333" stroke="#333" stroke-width="0.22">10</text>
<line x1="204.30" y1="285.20" x2="206.80" y2="285.20" stroke="#2a2627" stroke-width="0.8"/>
<text x="203.40" y="287.36" font-size="8" text-anchor="end" textLength="3.96" lengthAdjust="spacingAndGlyphs" fill="#333" stroke="#333" stroke-width="0.22">8</text>
<line x1="204.30" y1="298.10" x2="206.80" y2="298.10" stroke="#2a2627" stroke-width="0.8"/>
<text x="203.40" y="300.26" font-size="8" text-anchor="end" textLength="3.96" lengthAdjust="spacingAndGlyphs" fill="#333" stroke="#333" stroke-width="0.22">6</text>
<line x1="204.30" y1="311.00" x2="206.80" y2="311.00" stroke="#2a2627" stroke-width="0.8"/>
<text x="203.40" y="313.16" font-size="8" text-anchor="end" textLength="3.96" lengthAdjust="spacingAndGlyphs" fill="#333" stroke="#333" stroke-width="0.22">4</text>
<line x1="204.30" y1="324.00" x2="206.80" y2="324.00" stroke="#2a2627" stroke-width="0.8"/>
<text x="203.40" y="326.16" font-size="8" text-anchor="end" textLength="3.96" lengthAdjust="spacingAndGlyphs" fill="#333" stroke="#333" stroke-width="0.22">2</text>
<line x1="204.30" y1="337.00" x2="206.80" y2="337.00" stroke="#2a2627" stroke-width="0.8"/>
<text x="203.40" y="339.16" font-size="8" text-anchor="end" textLength="3.96" lengthAdjust="spacingAndGlyphs" fill="#333" stroke="#333" stroke-width="0.22">0</text>
<line x1="206.40" y1="337.20" x2="311.60" y2="337.20" stroke="#2a2627" stroke-width="0.9"/>
<line x1="259.00" y1="337.20" x2="259.00" y2="339.70" stroke="#2a2627" stroke-width="0.8"/>
<line x1="311.20" y1="337.20" x2="311.20" y2="339.70" stroke="#2a2627" stroke-width="0.8"/>
<line x1="221.90" y1="294.30" x2="221.90" y2="301.30" stroke="#2a2627" stroke-width="0.8"/>
<line x1="219.60" y1="294.30" x2="224.20" y2="294.30" stroke="#2a2627" stroke-width="0.8"/>
<rect x="213.00" y="301.30" width="17.80" height="35.80" fill="#1c1320" stroke="#18121a" stroke-width="0.9"/>
<line x1="245.65" y1="312.50" x2="245.65" y2="321.30" stroke="#2a2627" stroke-width="0.8"/>
<line x1="243.35" y1="312.50" x2="247.95" y2="312.50" stroke="#2a2627" stroke-width="0.8"/>
<rect x="236.80" y="321.30" width="17.70" height="15.80" fill="#fff" stroke="#18121a" stroke-width="0.9"/>
<text x="245.65" y="311.90" font-size="5.0" font-weight="bold" text-anchor="middle" fill="#3a3a3a" stroke="#3a3a3a" stroke-width="0.1">*</text>
<line x1="274.40" y1="269.20" x2="274.40" y2="272.50" stroke="#2a2627" stroke-width="0.8"/>
<line x1="272.10" y1="269.20" x2="276.70" y2="269.20" stroke="#2a2627" stroke-width="0.8"/>
<rect x="265.00" y="272.50" width="18.80" height="64.60" fill="#fbe78d" stroke="#18121a" stroke-width="0.9"/>
<line x1="297.40" y1="323.00" x2="297.40" y2="332.50" stroke="#2a2627" stroke-width="0.8"/>
<line x1="295.10" y1="323.00" x2="299.70" y2="323.00" stroke="#2a2627" stroke-width="0.8"/>
<rect x="288.00" y="332.50" width="18.80" height="4.60" fill="#fff" stroke="#18121a" stroke-width="0.9"/>
<text x="297.40" y="322.30" font-size="5.0" font-weight="bold" text-anchor="middle" textLength="7.50" lengthAdjust="spacing" fill="#3a3a3a" stroke="#3a3a3a" stroke-width="0.1">***</text>
<text x="215.60" y="346.00" font-size="10" font-weight="bold" textLength="15.60" lengthAdjust="spacingAndGlyphs" fill="#0e0e0e" stroke="#0e0e0e" stroke-width="0.3">42D</text>
<text x="231.60" y="342.70" font-size="4.9" font-weight="bold" textLength="12.60" lengthAdjust="spacingAndGlyphs" fill="#1c1c1c" stroke="#1c1c1c" stroke-width="0.15">ENZR</text>
<text x="267.00" y="345.70" font-size="10" font-weight="bold" textLength="14.20" lengthAdjust="spacingAndGlyphs" fill="#0e0e0e" stroke="#0e0e0e" stroke-width="0.3">42F</text>
<text x="281.60" y="342.40" font-size="4.9" font-weight="bold" textLength="12.60" lengthAdjust="spacingAndGlyphs" fill="#1c1c1c" stroke="#1c1c1c" stroke-width="0.15">ENZR</text>
<rect x="292.30" y="268.40" width="5.40" height="4.90" fill="#1c1320" stroke="#18121a" stroke-width="0.7"/>
<text x="299.60" y="273.30" font-size="7.4" textLength="11.00" lengthAdjust="spacingAndGlyphs" fill="#333" stroke="#333" stroke-width="0.22">Ctrl</text>
<rect x="292.30" y="276.30" width="5.40" height="5.20" fill="#fff" stroke="#18121a" stroke-width="0.7"/>
<text x="299.60" y="281.40" font-size="7.4" textLength="14.80" lengthAdjust="spacingAndGlyphs" fill="#333" stroke="#333" stroke-width="0.22">Mon</text>
<text x="346.14" y="296.30" font-size="9.4" text-anchor="middle" textLength="93.50" lengthAdjust="spacingAndGlyphs" fill="#2b2b2b" stroke="#2b2b2b" stroke-width="0.22" transform="rotate(-90 346.14 296.30)">% ALDH-Positive cells</text>
<line x1="360.00" y1="261.70" x2="360.00" y2="336.70" stroke="#2a2627" stroke-width="0.9"/>
<line x1="357.50" y1="262.00" x2="360.00" y2="262.00" stroke="#2a2627" stroke-width="0.8"/>
<text x="356.60" y="264.16" font-size="8" text-anchor="end" textLength="7.92" lengthAdjust="spacingAndGlyphs" fill="#333" stroke="#333" stroke-width="0.22">10</text>
<line x1="357.50" y1="299.00" x2="360.00" y2="299.00" stroke="#2a2627" stroke-width="0.8"/>
<text x="356.60" y="301.16" font-size="8" text-anchor="end" textLength="3.96" lengthAdjust="spacingAndGlyphs" fill="#333" stroke="#333" stroke-width="0.22">5</text>
<line x1="357.50" y1="336.20" x2="360.00" y2="336.20" stroke="#2a2627" stroke-width="0.8"/>
<text x="356.60" y="338.36" font-size="8" text-anchor="end" textLength="3.96" lengthAdjust="spacingAndGlyphs" fill="#333" stroke="#333" stroke-width="0.22">0</text>
<line x1="359.60" y1="336.50" x2="456.60" y2="336.50" stroke="#2a2627" stroke-width="0.9"/>
<line x1="408.70" y1="336.50" x2="408.70" y2="339.00" stroke="#2a2627" stroke-width="0.8"/>
<line x1="456.20" y1="336.50" x2="456.20" y2="339.00" stroke="#2a2627" stroke-width="0.8"/>
<line x1="374.90" y1="300.00" x2="374.90" y2="306.30" stroke="#2a2627" stroke-width="0.8"/>
<line x1="372.60" y1="300.00" x2="377.20" y2="300.00" stroke="#2a2627" stroke-width="0.8"/>
<rect x="366.80" y="306.30" width="16.20" height="30.10" fill="#1c1320" stroke="#18121a" stroke-width="0.9"/>
<line x1="395.90" y1="329.50" x2="395.90" y2="334.50" stroke="#2a2627" stroke-width="0.8"/>
<line x1="393.60" y1="329.50" x2="398.20" y2="329.50" stroke="#2a2627" stroke-width="0.8"/>
<rect x="387.50" y="334.50" width="16.80" height="1.90" fill="#fff" stroke="#18121a" stroke-width="0.9"/>
<text x="395.90" y="328.60" font-size="5.0" font-weight="bold" text-anchor="middle" textLength="5.00" lengthAdjust="spacing" fill="#3a3a3a" stroke="#3a3a3a" stroke-width="0.1">**</text>
<line x1="422.15" y1="274.50" x2="422.15" y2="285.00" stroke="#2a2627" stroke-width="0.8"/>
<line x1="419.85" y1="274.50" x2="424.45" y2="274.50" stroke="#2a2627" stroke-width="0.8"/>
<rect x="413.80" y="285.00" width="16.70" height="51.40" fill="#fbe78d" stroke="#18121a" stroke-width="0.9"/>
<line x1="443.75" y1="316.30" x2="443.75" y2="323.80" stroke="#2a2627" stroke-width="0.8"/>
<line x1="441.45" y1="316.30" x2="446.05" y2="316.30" stroke="#2a2627" stroke-width="0.8"/>
<rect x="435.00" y="323.80" width="17.50" height="12.60" fill="#fff" stroke="#18121a" stroke-width="0.9"/>
<text x="443.75" y="315.60" font-size="5.0" font-weight="bold" text-anchor="middle" textLength="5.00" lengthAdjust="spacing" fill="#3a3a3a" stroke="#3a3a3a" stroke-width="0.1">**</text>
<text x="373.80" y="345.70" font-size="10" font-weight="bold" textLength="15.60" lengthAdjust="spacingAndGlyphs" fill="#0e0e0e" stroke="#0e0e0e" stroke-width="0.3">42D</text>
<text x="389.80" y="342.40" font-size="4.9" font-weight="bold" textLength="12.60" lengthAdjust="spacingAndGlyphs" fill="#1c1c1c" stroke="#1c1c1c" stroke-width="0.15">ENZR</text>
<text x="416.30" y="345.70" font-size="10" font-weight="bold" textLength="14.20" lengthAdjust="spacingAndGlyphs" fill="#0e0e0e" stroke="#0e0e0e" stroke-width="0.3">42F</text>
<text x="430.90" y="342.40" font-size="4.9" font-weight="bold" textLength="12.60" lengthAdjust="spacingAndGlyphs" fill="#1c1c1c" stroke="#1c1c1c" stroke-width="0.15">ENZR</text>
<rect x="445.00" y="267.50" width="4.80" height="4.50" fill="#1c1320" stroke="#18121a" stroke-width="0.7"/>
<text x="451.60" y="272.10" font-size="7.4" textLength="32.50" lengthAdjust="spacingAndGlyphs" fill="#333" stroke="#333" stroke-width="0.22">Ctrl siRNA</text>
<rect x="445.00" y="275.70" width="5.00" height="5.30" fill="#fff" stroke="#18121a" stroke-width="0.7"/>
<text x="451.20" y="280.90" font-size="7.4" textLength="46.50" lengthAdjust="spacingAndGlyphs" fill="#333" stroke="#333" stroke-width="0.22">FOXM1 siRNA</text>
</g>
<text x="1.20" y="377.50" font-size="12.4" font-weight="bold" fill="#0c0c0c" stroke="#0c0c0c" stroke-width="0.45">E</text>
<g id="panelE1">
<rect x="33.30" y="385.40" width="100.90" height="69.90" fill="#fff" stroke="#2c2c2c" stroke-width="0.95"/>
<text x="54.10" y="382.70" font-size="9.3" font-weight="bold" textLength="15.20" lengthAdjust="spacingAndGlyphs" fill="#111" stroke="#111" stroke-width="0.18">42D</text>
<text x="69.60" y="379.60" font-size="4.7" font-weight="bold" textLength="12.40" lengthAdjust="spacingAndGlyphs" fill="#222" stroke="#222" stroke-width="0.12">ENZR</text>
<text x="90.60" y="382.70" font-size="9.3" font-weight="bold" textLength="24.50" lengthAdjust="spacingAndGlyphs" fill="#111" stroke="#111" stroke-width="0.18">ALDH</text>
<text x="115.50" y="379.60" font-size="4.7" font-weight="bold" textLength="9.30" lengthAdjust="spacingAndGlyphs" fill="#222" stroke="#222" stroke-width="0.12">Low</text>
<text x="18.85" y="418.50" font-size="9.8" text-anchor="middle" textLength="85.00" lengthAdjust="spacingAndGlyphs" fill="#2b2b2b" stroke="#2b2b2b" stroke-width="0.22" transform="rotate(-90 18.85 418.50)">Relative confluence</text>
<line x1="32.00" y1="385.40" x2="33.30" y2="385.40" stroke="#2c2c2c" stroke-width="0.6"/>
<text x="31.60" y="387.60" font-size="8" text-anchor="end" textLength="10.00" lengthAdjust="spacingAndGlyphs" fill="#333" stroke="#333" stroke-width="0.22">2.6</text>
<line x1="32.00" y1="393.20" x2="33.30" y2="393.20" stroke="#2c2c2c" stroke-width="0.6"/>
<text x="31.60" y="395.40" font-size="8" text-anchor="end" textLength="10.00" lengthAdjust="spacingAndGlyphs" fill="#333" stroke="#333" stroke-width="0.22">2.4</text>
<line x1="32.00" y1="400.90" x2="33.30" y2="400.90" stroke="#2c2c2c" stroke-width="0.6"/>
<text x="31.60" y="403.10" font-size="8" text-anchor="end" textLength="10.00" lengthAdjust="spacingAndGlyphs" fill="#333" stroke="#333" stroke-width="0.22">2.2</text>
<line x1="32.00" y1="408.70" x2="33.30" y2="408.70" stroke="#2c2c2c" stroke-width="0.6"/>
<text x="31.60" y="410.90" font-size="8" text-anchor="end" textLength="10.00" lengthAdjust="spacingAndGlyphs" fill="#333" stroke="#333" stroke-width="0.22">2.0</text>
<line x1="32.00" y1="416.50" x2="33.30" y2="416.50" stroke="#2c2c2c" stroke-width="0.6"/>
<text x="31.60" y="418.70" font-size="8" text-anchor="end" textLength="10.00" lengthAdjust="spacingAndGlyphs" fill="#333" stroke="#333" stroke-width="0.22">1.8</text>
<line x1="32.00" y1="424.20" x2="33.30" y2="424.20" stroke="#2c2c2c" stroke-width="0.6"/>
<text x="31.60" y="426.40" font-size="8" text-anchor="end" textLength="10.00" lengthAdjust="spacingAndGlyphs" fill="#333" stroke="#333" stroke-width="0.22">1.6</text>
<line x1="32.00" y1="432.00" x2="33.30" y2="432.00" stroke="#2c2c2c" stroke-width="0.6"/>
<text x="31.60" y="434.20" font-size="8" text-anchor="end" textLength="10.00" lengthAdjust="spacingAndGlyphs" fill="#333" stroke="#333" stroke-width="0.22">1.4</text>
<line x1="32.00" y1="439.80" x2="33.30" y2="439.80" stroke="#2c2c2c" stroke-width="0.6"/>
<text x="31.60" y="442.00" font-size="8" text-anchor="end" textLength="10.00" lengthAdjust="spacingAndGlyphs" fill="#333" stroke="#333" stroke-width="0.22">1.2</text>
<line x1="32.00" y1="447.50" x2="33.30" y2="447.50" stroke="#2c2c2c" stroke-width="0.6"/>
<text x="31.60" y="449.70" font-size="8" text-anchor="end" textLength="10.00" lengthAdjust="spacingAndGlyphs" fill="#333" stroke="#333" stroke-width="0.22">1.0</text>
<line x1="32.00" y1="455.20" x2="33.30" y2="455.20" stroke="#2c2c2c" stroke-width="0.6"/>
<text x="31.60" y="457.40" font-size="8" text-anchor="end" textLength="10.00" lengthAdjust="spacingAndGlyphs" fill="#333" stroke="#333" stroke-width="0.22">0.8</text>
<line x1="40.80" y1="455.30" x2="40.80" y2="456.60" stroke="#2c2c2c" stroke-width="0.6"/>
<text x="40.80" y="463.60" font-size="8" text-anchor="middle" textLength="4.00" lengthAdjust="spacingAndGlyphs" fill="#333" stroke="#333" stroke-width="0.22">0</text>
<line x1="63.90" y1="455.30" x2="63.90" y2="456.60" stroke="#2c2c2c" stroke-width="0.6"/>
<text x="63.90" y="463.60" font-size="8" text-anchor="middle" textLength="8.01" lengthAdjust="spacingAndGlyphs" fill="#333" stroke="#333" stroke-width="0.22">20</text>
<line x1="87.00" y1="455.30" x2="87.00" y2="456.60" stroke="#2c2c2c" stroke-width="0.6"/>
<text x="87.00" y="463.60" font-size="8" text-anchor="middle" textLength="8.01" lengthAdjust="spacingAndGlyphs" fill="#333" stroke="#333" stroke-width="0.22">40</text>
<line x1="110.00" y1="455.30" x2="110.00" y2="456.60" stroke="#2c2c2c" stroke-width="0.6"/>
<text x="110.00" y="463.60" font-size="8" text-anchor="middle" textLength="8.01" lengthAdjust="spacingAndGlyphs" fill="#333" stroke="#333" stroke-width="0.22">60</text>
<line x1="131.20" y1="455.30" x2="131.20" y2="456.60" stroke="#2c2c2c" stroke-width="0.6"/>
<text x="131.20" y="463.60" font-size="8" text-anchor="middle" textLength="8.01" lengthAdjust="spacingAndGlyphs" fill="#333" stroke="#333" stroke-width="0.22">80</text>
<text x="68.80" y="476.60" font-size="10" textLength="36.30" lengthAdjust="spacingAndGlyphs" fill="#2b2b2b" stroke="#2b2b2b" stroke-width="0.22">Time (h)</text>
<line x1="41.75" y1="445.25" x2="41.75" y2="451.25" stroke="#d9626b" stroke-width="0.8"/>
<line x1="40.85" y1="445.25" x2="42.65" y2="445.25" stroke="#d9626b" stroke-width="0.7"/>
<line x1="40.85" y1="451.25" x2="42.65" y2="451.25" stroke="#d9626b" stroke-width="0.7"/>
<line x1="48.75" y1="444.00" x2="48.75" y2="451.00" stroke="#d9626b" stroke-width="0.8"/>
<line x1="47.85" y1="444.00" x2="49.65" y2="444.00" stroke="#d9626b" stroke-width="0.7"/>
<line x1="47.85" y1="451.00" x2="49.65" y2="451.00" stroke="#d9626b" stroke-width="0.7"/>
<line x1="55.50" y1="443.00" x2="55.50" y2="447.00" stroke="#d9626b" stroke-width="0.8"/>
<line x1="54.60" y1="443.00" x2="56.40" y2="443.00" stroke="#d9626b" stroke-width="0.7"/>
<line x1="54.60" y1="447.00" x2="56.40" y2="447.00" stroke="#d9626b" stroke-width="0.7"/>
<line x1="62.50" y1="440.50" x2="62.50" y2="443.50" stroke="#d9626b" stroke-width="0.8"/>
<line x1="61.60" y1="440.50" x2="63.40" y2="440.50" stroke="#d9626b" stroke-width="0.7"/>
<line x1="61.60" y1="443.50" x2="63.40" y2="443.50" stroke="#d9626b" stroke-width="0.7"/>
<line x1="69.50" y1="435.00" x2="69.50" y2="441.00" stroke="#d9626b" stroke-width="0.8"/>
<line x1="68.60" y1="435.00" x2="70.40" y2="435.00" stroke="#d9626b" stroke-width="0.7"/>
<line x1="68.60" y1="441.00" x2="70.40" y2="441.00" stroke="#d9626b" stroke-width="0.7"/>
<line x1="76.25" y1="433.50" x2="76.25" y2="436.50" stroke="#d9626b" stroke-width="0.8"/>
<line x1="75.35" y1="433.50" x2="77.15" y2="433.50" stroke="#d9626b" stroke-width="0.7"/>
<line x1="75.35" y1="436.50" x2="77.15" y2="436.50" stroke="#d9626b" stroke-width="0.7"/>
<line x1="83.75" y1="428.25" x2="83.75" y2="434.25" stroke="#d9626b" stroke-width="0.8"/>
<line x1="82.85" y1="428.25" x2="84.65" y2="428.25" stroke="#d9626b" stroke-width="0.7"/>
<line x1="82.85" y1="434.25" x2="84.65" y2="434.25" stroke="#d9626b" stroke-width="0.7"/>
<line x1="90.00" y1="424.25" x2="90.00" y2="429.25" stroke="#d9626b" stroke-width="0.8"/>
<line x1="89.10" y1="424.25" x2="90.90" y2="424.25" stroke="#d9626b" stroke-width="0.7"/>
<line x1="89.10" y1="429.25" x2="90.90" y2="429.25" stroke="#d9626b" stroke-width="0.7"/>
<line x1="97.00" y1="420.50" x2="97.00" y2="424.50" stroke="#d9626b" stroke-width="0.8"/>
<line x1="96.10" y1="420.50" x2="97.90" y2="420.50" stroke="#d9626b" stroke-width="0.7"/>
<line x1="96.10" y1="424.50" x2="97.90" y2="424.50" stroke="#d9626b" stroke-width="0.7"/>
<line x1="103.75" y1="420.00" x2="103.75" y2="425.00" stroke="#d9626b" stroke-width="0.8"/>
<line x1="102.85" y1="420.00" x2="104.65" y2="420.00" stroke="#d9626b" stroke-width="0.7"/>
<line x1="102.85" y1="425.00" x2="104.65" y2="425.00" stroke="#d9626b" stroke-width="0.7"/>
<line x1="110.50" y1="417.25" x2="110.50" y2="420.25" stroke="#d9626b" stroke-width="0.8"/>
<line x1="109.60" y1="417.25" x2="111.40" y2="417.25" stroke="#d9626b" stroke-width="0.7"/>
<line x1="109.60" y1="420.25" x2="111.40" y2="420.25" stroke="#d9626b" stroke-width="0.7"/>
<line x1="117.50" y1="412.75" x2="117.50" y2="414.75" stroke="#d9626b" stroke-width="0.8"/>
<line x1="116.60" y1="412.75" x2="118.40" y2="412.75" stroke="#d9626b" stroke-width="0.7"/>
<line x1="116.60" y1="414.75" x2="118.40" y2="414.75" stroke="#d9626b" stroke-width="0.7"/>
<line x1="124.25" y1="409.25" x2="124.25" y2="414.25" stroke="#d9626b" stroke-width="0.8"/>
<line x1="123.35" y1="409.25" x2="125.15" y2="409.25" stroke="#d9626b" stroke-width="0.7"/>
<line x1="123.35" y1="414.25" x2="125.15" y2="414.25" stroke="#d9626b" stroke-width="0.7"/>
<polyline points="41.75,448.25 48.75,447.50 55.50,445.00 62.50,442.00 69.50,438.00 76.25,435.00 83.75,431.25 90.00,426.75 97.00,422.50 103.75,422.50 110.50,418.75 117.50,413.75 124.25,411.75" fill="none" stroke="#d9626b" stroke-width="0.95" stroke-linejoin="round"/>
<circle cx="41.75" cy="448.25" r="0.75" fill="#d9626b"/>
<circle cx="48.75" cy="447.50" r="0.75" fill="#d9626b"/>
<circle cx="55.50" cy="445.00" r="0.75" fill="#d9626b"/>
<circle cx="62.50" cy="442.00" r="0.75" fill="#d9626b"/>
<circle cx="69.50" cy="438.00" r="0.75" fill="#d9626b"/>
<circle cx="76.25" cy="435.00" r="0.75" fill="#d9626b"/>
<circle cx="83.75" cy="431.25" r="0.75" fill="#d9626b"/>
<circle cx="90.00" cy="426.75" r="0.75" fill="#d9626b"/>
<circle cx="97.00" cy="422.50" r="0.75" fill="#d9626b"/>
<circle cx="103.75" cy="422.50" r="0.75" fill="#d9626b"/>
<circle cx="110.50" cy="418.75" r="0.75" fill="#d9626b"/>
<circle cx="117.50" cy="413.75" r="0.75" fill="#d9626b"/>
<circle cx="124.25" cy="411.75" r="0.75" fill="#d9626b"/>
<line x1="41.75" y1="444.45" x2="41.75" y2="452.05" stroke="#161616" stroke-width="0.8"/>
<line x1="40.85" y1="444.45" x2="42.65" y2="444.45" stroke="#161616" stroke-width="0.7"/>
<line x1="40.85" y1="452.05" x2="42.65" y2="452.05" stroke="#161616" stroke-width="0.7"/>
<line x1="48.75" y1="442.00" x2="48.75" y2="449.00" stroke="#161616" stroke-width="0.8"/>
<line x1="47.85" y1="442.00" x2="49.65" y2="442.00" stroke="#161616" stroke-width="0.7"/>
<line x1="47.85" y1="449.00" x2="49.65" y2="449.00" stroke="#161616" stroke-width="0.7"/>
<line x1="55.50" y1="442.50" x2="55.50" y2="447.50" stroke="#161616" stroke-width="0.8"/>
<line x1="54.60" y1="442.50" x2="56.40" y2="442.50" stroke="#161616" stroke-width="0.7"/>
<line x1="54.60" y1="447.50" x2="56.40" y2="447.50" stroke="#161616" stroke-width="0.7"/>
<line x1="62.50" y1="440.40" x2="62.50" y2="443.60" stroke="#161616" stroke-width="0.8"/>
<line x1="61.60" y1="440.40" x2="63.40" y2="440.40" stroke="#161616" stroke-width="0.7"/>
<line x1="61.60" y1="443.60" x2="63.40" y2="443.60" stroke="#161616" stroke-width="0.7"/>
<line x1="69.50" y1="432.75" x2="69.50" y2="440.75" stroke="#161616" stroke-width="0.8"/>
<line x1="68.60" y1="432.75" x2="70.40" y2="432.75" stroke="#161616" stroke-width="0.7"/>
<line x1="68.60" y1="440.75" x2="70.40" y2="440.75" stroke="#161616" stroke-width="0.7"/>
<line x1="76.25" y1="434.00" x2="76.25" y2="437.00" stroke="#161616" stroke-width="0.8"/>
<line x1="75.35" y1="434.00" x2="77.15" y2="434.00" stroke="#161616" stroke-width="0.7"/>
<line x1="75.35" y1="437.00" x2="77.15" y2="437.00" stroke="#161616" stroke-width="0.7"/>
<line x1="83.75" y1="422.00" x2="83.75" y2="428.00" stroke="#161616" stroke-width="0.8"/>
<line x1="82.85" y1="422.00" x2="84.65" y2="422.00" stroke="#161616" stroke-width="0.7"/>
<line x1="82.85" y1="428.00" x2="84.65" y2="428.00" stroke="#161616" stroke-width="0.7"/>
<line x1="90.00" y1="420.75" x2="90.00" y2="427.75" stroke="#161616" stroke-width="0.8"/>
<line x1="89.10" y1="420.75" x2="90.90" y2="420.75" stroke="#161616" stroke-width="0.7"/>
<line x1="89.10" y1="427.75" x2="90.90" y2="427.75" stroke="#161616" stroke-width="0.7"/>
<line x1="97.00" y1="416.75" x2="97.00" y2="420.75" stroke="#161616" stroke-width="0.8"/>
<line x1="96.10" y1="416.75" x2="97.90" y2="416.75" stroke="#161616" stroke-width="0.7"/>
<line x1="96.10" y1="420.75" x2="97.90" y2="420.75" stroke="#161616" stroke-width="0.7"/>
<line x1="103.75" y1="411.75" x2="103.75" y2="414.75" stroke="#161616" stroke-width="0.8"/>
<line x1="102.85" y1="411.75" x2="104.65" y2="411.75" stroke="#161616" stroke-width="0.7"/>
<line x1="102.85" y1="414.75" x2="104.65" y2="414.75" stroke="#161616" stroke-width="0.7"/>
<line x1="110.50" y1="400.75" x2="110.50" y2="405.75" stroke="#161616" stroke-width="0.8"/>
<line x1="109.60" y1="400.75" x2="111.40" y2="400.75" stroke="#161616" stroke-width="0.7"/>
<line x1="109.60" y1="405.75" x2="111.40" y2="405.75" stroke="#161616" stroke-width="0.7"/>
<line x1="117.50" y1="393.25" x2="117.50" y2="403.25" stroke="#161616" stroke-width="0.8"/>
<line x1="116.60" y1="393.25" x2="118.40" y2="393.25" stroke="#161616" stroke-width="0.7"/>
<line x1="116.60" y1="403.25" x2="118.40" y2="403.25" stroke="#161616" stroke-width="0.7"/>
<line x1="124.25" y1="388.75" x2="124.25" y2="393.75" stroke="#161616" stroke-width="0.8"/>
<line x1="123.35" y1="388.75" x2="125.15" y2="388.75" stroke="#161616" stroke-width="0.7"/>
<line x1="123.35" y1="393.75" x2="125.15" y2="393.75" stroke="#161616" stroke-width="0.7"/>
<polyline points="41.75,448.25 48.75,445.50 55.50,445.00 62.50,442.00 69.50,436.75 76.25,435.50 83.75,425.00 90.00,424.25 97.00,418.75 103.75,413.25 110.50,403.25 117.50,398.25 124.25,391.25" fill="none" stroke="#161616" stroke-width="0.95" stroke-linejoin="round"/>
<circle cx="41.75" cy="448.25" r="0.85" fill="#161616"/>
<circle cx="48.75" cy="445.50" r="0.85" fill="#161616"/>
<circle cx="55.50" cy="445.00" r="0.85" fill="#161616"/>
<circle cx="62.50" cy="442.00" r="0.85" fill="#161616"/>
<circle cx="69.50" cy="436.75" r="0.85" fill="#161616"/>
<circle cx="76.25" cy="435.50" r="0.85" fill="#161616"/>
<circle cx="83.75" cy="425.00" r="0.85" fill="#161616"/>
<circle cx="90.00" cy="424.25" r="0.85" fill="#161616"/>
<circle cx="97.00" cy="418.75" r="0.85" fill="#161616"/>
<circle cx="103.75" cy="413.25" r="0.85" fill="#161616"/>
<circle cx="110.50" cy="403.25" r="0.85" fill="#161616"/>
<circle cx="117.50" cy="398.25" r="0.85" fill="#161616"/>
<circle cx="124.25" cy="391.25" r="0.85" fill="#161616"/>
<line x1="39.40" y1="393.30" x2="51.10" y2="393.30" stroke="#161616" stroke-width="0.95"/>
<circle cx="45.25" cy="393.30" r="0.9" fill="#161616"/>
<text x="53.80" y="396.20" font-size="8.2" font-weight="bold" textLength="13.20" lengthAdjust="spacingAndGlyphs" fill="#111" stroke="#111" stroke-width="0.18">Ctrl</text>
<line x1="39.40" y1="400.00" x2="51.10" y2="400.00" stroke="#d9626b" stroke-width="0.9"/>
<circle cx="45.25" cy="400.00" r="0.8" fill="#d9626b"/>
<text x="53.80" y="402.90" font-size="8.2" font-weight="bold" textLength="16.60" lengthAdjust="spacingAndGlyphs" fill="#111" stroke="#111" stroke-width="0.18">Mon</text>
</g>
<g id="panelE2">
<rect x="163.50" y="386.30" width="98.50" height="69.50" fill="#fff" stroke="#2c2c2c" stroke-width="0.95"/>
<text x="179.10" y="383.10" font-size="9.3" font-weight="bold" textLength="15.20" lengthAdjust="spacingAndGlyphs" fill="#111" stroke="#111" stroke-width="0.18">42D</text>
<text x="194.60" y="380.00" font-size="4.7" font-weight="bold" textLength="12.40" lengthAdjust="spacingAndGlyphs" fill="#222" stroke="#222" stroke-width="0.12">ENZR</text>
<text x="215.60" y="383.10" font-size="9.3" font-weight="bold" textLength="24.50" lengthAdjust="spacingAndGlyphs" fill="#111" stroke="#111" stroke-width="0.18">ALDH</text>
<text x="240.50" y="380.00" font-size="4.7" font-weight="bold" textLength="10.20" lengthAdjust="spacingAndGlyphs" fill="#222" stroke="#222" stroke-width="0.12">High</text>
<text x="148.15" y="418.50" font-size="9.8" text-anchor="middle" textLength="85.00" lengthAdjust="spacingAndGlyphs" fill="#2b2b2b" stroke="#2b2b2b" stroke-width="0.22" transform="rotate(-90 148.15 418.50)">Relative confluence</text>
<line x1="162.20" y1="386.20" x2="163.50" y2="386.20" stroke="#2c2c2c" stroke-width="0.6"/>
<text x="161.80" y="388.40" font-size="8" text-anchor="end" textLength="10.00" lengthAdjust="spacingAndGlyphs" fill="#333" stroke="#333" stroke-width="0.22">4.5</text>
<line x1="162.20" y1="394.90" x2="163.50" y2="394.90" stroke="#2c2c2c" stroke-width="0.6"/>
<text x="161.80" y="397.10" font-size="8" text-anchor="end" textLength="10.00" lengthAdjust="spacingAndGlyphs" fill="#333" stroke="#333" stroke-width="0.22">4.0</text>
<line x1="162.20" y1="403.60" x2="163.50" y2="403.60" stroke="#2c2c2c" stroke-width="0.6"/>
<text x="161.80" y="405.80" font-size="8" text-anchor="end" textLength="10.00" lengthAdjust="spacingAndGlyphs" fill="#333" stroke="#333" stroke-width="0.22">3.5</text>
<line x1="162.20" y1="412.30" x2="163.50" y2="412.30" stroke="#2c2c2c" stroke-width="0.6"/>
<text x="161.80" y="414.50" font-size="8" text-anchor="end" textLength="10.00" lengthAdjust="spacingAndGlyphs" fill="#333" stroke="#333" stroke-width="0.22">3.0</text>
<line x1="162.20" y1="421.00" x2="163.50" y2="421.00" stroke="#2c2c2c" stroke-width="0.6"/>
<text x="161.80" y="423.20" font-size="8" text-anchor="end" textLength="10.00" lengthAdjust="spacingAndGlyphs" fill="#333" stroke="#333" stroke-width="0.22">2.5</text>
<line x1="162.20" y1="429.70" x2="163.50" y2="429.70" stroke="#2c2c2c" stroke-width="0.6"/>
<text x="161.80" y="431.90" font-size="8" text-anchor="end" textLength="10.00" lengthAdjust="spacingAndGlyphs" fill="#333" stroke="#333" stroke-width="0.22">2.0</text>
<line x1="162.20" y1="438.40" x2="163.50" y2="438.40" stroke="#2c2c2c" stroke-width="0.6"/>
<text x="161.80" y="440.60" font-size="8" text-anchor="end" textLength="10.00" lengthAdjust="spacingAndGlyphs" fill="#333" stroke="#333" stroke-width="0.22">1.5</text>
<line x1="162.20" y1="447.10" x2="163.50" y2="447.10" stroke="#2c2c2c" stroke-width="0.6"/>
<text x="161.80" y="449.30" font-size="8" text-anchor="end" textLength="10.00" lengthAdjust="spacingAndGlyphs" fill="#333" stroke="#333" stroke-width="0.22">1.0</text>
<line x1="162.20" y1="455.60" x2="163.50" y2="455.60" stroke="#2c2c2c" stroke-width="0.6"/>
<text x="161.80" y="457.80" font-size="8" text-anchor="end" textLength="10.00" lengthAdjust="spacingAndGlyphs" fill="#333" stroke="#333" stroke-width="0.22">0.5</text>
<line x1="168.80" y1="455.80" x2="168.80" y2="457.10" stroke="#2c2c2c" stroke-width="0.6"/>
<text x="168.80" y="463.90" font-size="8" text-anchor="middle" textLength="4.00" lengthAdjust="spacingAndGlyphs" fill="#333" stroke="#333" stroke-width="0.22">0</text>
<line x1="192.00" y1="455.80" x2="192.00" y2="457.10" stroke="#2c2c2c" stroke-width="0.6"/>
<text x="192.00" y="463.90" font-size="8" text-anchor="middle" textLength="8.01" lengthAdjust="spacingAndGlyphs" fill="#333" stroke="#333" stroke-width="0.22">20</text>
<line x1="214.60" y1="455.80" x2="214.60" y2="457.10" stroke="#2c2c2c" stroke-width="0.6"/>
<text x="214.60" y="463.90" font-size="8" text-anchor="middle" textLength="8.01" lengthAdjust="spacingAndGlyphs" fill="#333" stroke="#333" stroke-width="0.22">40</text>
<line x1="237.30" y1="455.80" x2="237.30" y2="457.10" stroke="#2c2c2c" stroke-width="0.6"/>
<text x="237.30" y="463.90" font-size="8" text-anchor="middle" textLength="8.01" lengthAdjust="spacingAndGlyphs" fill="#333" stroke="#333" stroke-width="0.22">60</text>
<line x1="258.50" y1="455.80" x2="258.50" y2="457.10" stroke="#2c2c2c" stroke-width="0.6"/>
<text x="258.50" y="463.90" font-size="8" text-anchor="middle" textLength="8.01" lengthAdjust="spacingAndGlyphs" fill="#333" stroke="#333" stroke-width="0.22">80</text>
<text x="196.80" y="477.40" font-size="10" textLength="36.30" lengthAdjust="spacingAndGlyphs" fill="#2b2b2b" stroke="#2b2b2b" stroke-width="0.22">Time (h)</text>
<line x1="170.00" y1="444.75" x2="170.00" y2="448.75" stroke="#74ad96" stroke-width="0.8"/>
<line x1="169.10" y1="444.75" x2="170.90" y2="444.75" stroke="#74ad96" stroke-width="0.7"/>
<line x1="169.10" y1="448.75" x2="170.90" y2="448.75" stroke="#74ad96" stroke-width="0.7"/>
<line x1="176.75" y1="439.50" x2="176.75" y2="444.50" stroke="#74ad96" stroke-width="0.8"/>
<line x1="175.85" y1="439.50" x2="177.65" y2="439.50" stroke="#74ad96" stroke-width="0.7"/>
<line x1="175.85" y1="444.50" x2="177.65" y2="444.50" stroke="#74ad96" stroke-width="0.7"/>
<line x1="183.75" y1="438.00" x2="183.75" y2="441.00" stroke="#74ad96" stroke-width="0.8"/>
<line x1="182.85" y1="438.00" x2="184.65" y2="438.00" stroke="#74ad96" stroke-width="0.7"/>
<line x1="182.85" y1="441.00" x2="184.65" y2="441.00" stroke="#74ad96" stroke-width="0.7"/>
<line x1="190.75" y1="435.75" x2="190.75" y2="441.75" stroke="#74ad96" stroke-width="0.8"/>
<line x1="189.85" y1="435.75" x2="191.65" y2="435.75" stroke="#74ad96" stroke-width="0.7"/>
<line x1="189.85" y1="441.75" x2="191.65" y2="441.75" stroke="#74ad96" stroke-width="0.7"/>
<line x1="198.00" y1="431.80" x2="198.00" y2="434.20" stroke="#74ad96" stroke-width="0.8"/>
<line x1="197.10" y1="431.80" x2="198.90" y2="431.80" stroke="#74ad96" stroke-width="0.7"/>
<line x1="197.10" y1="434.20" x2="198.90" y2="434.20" stroke="#74ad96" stroke-width="0.7"/>
<line x1="204.50" y1="429.30" x2="204.50" y2="431.70" stroke="#74ad96" stroke-width="0.8"/>
<line x1="203.60" y1="429.30" x2="205.40" y2="429.30" stroke="#74ad96" stroke-width="0.7"/>
<line x1="203.60" y1="431.70" x2="205.40" y2="431.70" stroke="#74ad96" stroke-width="0.7"/>
<line x1="211.50" y1="428.25" x2="211.50" y2="434.25" stroke="#74ad96" stroke-width="0.8"/>
<line x1="210.60" y1="428.25" x2="212.40" y2="428.25" stroke="#74ad96" stroke-width="0.7"/>
<line x1="210.60" y1="434.25" x2="212.40" y2="434.25" stroke="#74ad96" stroke-width="0.7"/>
<line x1="218.25" y1="429.75" x2="218.25" y2="432.75" stroke="#74ad96" stroke-width="0.8"/>
<line x1="217.35" y1="429.75" x2="219.15" y2="429.75" stroke="#74ad96" stroke-width="0.7"/>
<line x1="217.35" y1="432.75" x2="219.15" y2="432.75" stroke="#74ad96" stroke-width="0.7"/>
<line x1="225.00" y1="427.75" x2="225.00" y2="433.75" stroke="#74ad96" stroke-width="0.8"/>
<line x1="224.10" y1="427.75" x2="225.90" y2="427.75" stroke="#74ad96" stroke-width="0.7"/>
<line x1="224.10" y1="433.75" x2="225.90" y2="433.75" stroke="#74ad96" stroke-width="0.7"/>
<line x1="232.00" y1="427.75" x2="232.00" y2="433.75" stroke="#74ad96" stroke-width="0.8"/>
<line x1="231.10" y1="427.75" x2="232.90" y2="427.75" stroke="#74ad96" stroke-width="0.7"/>
<line x1="231.10" y1="433.75" x2="232.90" y2="433.75" stroke="#74ad96" stroke-width="0.7"/>
<line x1="238.75" y1="428.00" x2="238.75" y2="433.00" stroke="#74ad96" stroke-width="0.8"/>
<line x1="237.85" y1="428.00" x2="239.65" y2="428.00" stroke="#74ad96" stroke-width="0.7"/>
<line x1="237.85" y1="433.00" x2="239.65" y2="433.00" stroke="#74ad96" stroke-width="0.7"/>
<line x1="245.75" y1="428.00" x2="245.75" y2="433.00" stroke="#74ad96" stroke-width="0.8"/>
<line x1="244.85" y1="428.00" x2="246.65" y2="428.00" stroke="#74ad96" stroke-width="0.7"/>
<line x1="244.85" y1="433.00" x2="246.65" y2="433.00" stroke="#74ad96" stroke-width="0.7"/>
<line x1="252.50" y1="427.00" x2="252.50" y2="433.00" stroke="#74ad96" stroke-width="0.8"/>
<line x1="251.60" y1="427.00" x2="253.40" y2="427.00" stroke="#74ad96" stroke-width="0.7"/>
<line x1="251.60" y1="433.00" x2="253.40" y2="433.00" stroke="#74ad96" stroke-width="0.7"/>
<polyline points="170.00,446.75 176.75,442.00 183.75,439.50 190.75,438.75 198.00,433.00 204.50,430.50 211.50,431.25 218.25,431.25 225.00,430.75 232.00,430.75 238.75,430.50 245.75,430.50 252.50,430.00" fill="none" stroke="#74ad96" stroke-width="0.95" stroke-linejoin="round"/>
<circle cx="170.00" cy="446.75" r="0.75" fill="#74ad96"/>
<circle cx="176.75" cy="442.00" r="0.75" fill="#74ad96"/>
<circle cx="183.75" cy="439.50" r="0.75" fill="#74ad96"/>
<circle cx="190.75" cy="438.75" r="0.75" fill="#74ad96"/>
<circle cx="198.00" cy="433.00" r="0.75" fill="#74ad96"/>
<circle cx="204.50" cy="430.50" r="0.75" fill="#74ad96"/>
<circle cx="211.50" cy="431.25" r="0.75" fill="#74ad96"/>
<circle cx="218.25" cy="431.25" r="0.75" fill="#74ad96"/>
<circle cx="225.00" cy="430.75" r="0.75" fill="#74ad96"/>
<circle cx="232.00" cy="430.75" r="0.75" fill="#74ad96"/>
<circle cx="238.75" cy="430.50" r="0.75" fill="#74ad96"/>
<circle cx="245.75" cy="430.50" r="0.75" fill="#74ad96"/>
<circle cx="252.50" cy="430.00" r="0.75" fill="#74ad96"/>
<line x1="170.00" y1="444.75" x2="170.00" y2="448.75" stroke="#161616" stroke-width="0.8"/>
<line x1="169.10" y1="444.75" x2="170.90" y2="444.75" stroke="#161616" stroke-width="0.7"/>
<line x1="169.10" y1="448.75" x2="170.90" y2="448.75" stroke="#161616" stroke-width="0.7"/>
<line x1="176.75" y1="442.00" x2="176.75" y2="444.00" stroke="#161616" stroke-width="0.8"/>
<line x1="175.85" y1="442.00" x2="177.65" y2="442.00" stroke="#161616" stroke-width="0.7"/>
<line x1="175.85" y1="444.00" x2="177.65" y2="444.00" stroke="#161616" stroke-width="0.7"/>
<line x1="183.75" y1="438.25" x2="183.75" y2="440.25" stroke="#161616" stroke-width="0.8"/>
<line x1="182.85" y1="438.25" x2="184.65" y2="438.25" stroke="#161616" stroke-width="0.7"/>
<line x1="182.85" y1="440.25" x2="184.65" y2="440.25" stroke="#161616" stroke-width="0.7"/>
<line x1="190.75" y1="434.75" x2="190.75" y2="436.75" stroke="#161616" stroke-width="0.8"/>
<line x1="189.85" y1="434.75" x2="191.65" y2="434.75" stroke="#161616" stroke-width="0.7"/>
<line x1="189.85" y1="436.75" x2="191.65" y2="436.75" stroke="#161616" stroke-width="0.7"/>
<line x1="198.00" y1="432.00" x2="198.00" y2="434.00" stroke="#161616" stroke-width="0.8"/>
<line x1="197.10" y1="432.00" x2="198.90" y2="432.00" stroke="#161616" stroke-width="0.7"/>
<line x1="197.10" y1="434.00" x2="198.90" y2="434.00" stroke="#161616" stroke-width="0.7"/>
<line x1="204.50" y1="428.50" x2="204.50" y2="430.50" stroke="#161616" stroke-width="0.8"/>
<line x1="203.60" y1="428.50" x2="205.40" y2="428.50" stroke="#161616" stroke-width="0.7"/>
<line x1="203.60" y1="430.50" x2="205.40" y2="430.50" stroke="#161616" stroke-width="0.7"/>
<line x1="211.50" y1="420.25" x2="211.50" y2="427.25" stroke="#161616" stroke-width="0.8"/>
<line x1="210.60" y1="420.25" x2="212.40" y2="420.25" stroke="#161616" stroke-width="0.7"/>
<line x1="210.60" y1="427.25" x2="212.40" y2="427.25" stroke="#161616" stroke-width="0.7"/>
<line x1="218.25" y1="415.75" x2="218.25" y2="420.75" stroke="#161616" stroke-width="0.8"/>
<line x1="217.35" y1="415.75" x2="219.15" y2="415.75" stroke="#161616" stroke-width="0.7"/>
<line x1="217.35" y1="420.75" x2="219.15" y2="420.75" stroke="#161616" stroke-width="0.7"/>
<line x1="225.00" y1="414.00" x2="225.00" y2="416.00" stroke="#161616" stroke-width="0.8"/>
<line x1="224.10" y1="414.00" x2="225.90" y2="414.00" stroke="#161616" stroke-width="0.7"/>
<line x1="224.10" y1="416.00" x2="225.90" y2="416.00" stroke="#161616" stroke-width="0.7"/>
<line x1="232.00" y1="408.50" x2="232.00" y2="410.50" stroke="#161616" stroke-width="0.8"/>
<line x1="231.10" y1="408.50" x2="232.90" y2="408.50" stroke="#161616" stroke-width="0.7"/>
<line x1="231.10" y1="410.50" x2="232.90" y2="410.50" stroke="#161616" stroke-width="0.7"/>
<line x1="238.75" y1="400.75" x2="238.75" y2="406.75" stroke="#161616" stroke-width="0.8"/>
<line x1="237.85" y1="400.75" x2="239.65" y2="400.75" stroke="#161616" stroke-width="0.7"/>
<line x1="237.85" y1="406.75" x2="239.65" y2="406.75" stroke="#161616" stroke-width="0.7"/>
<line x1="245.75" y1="394.00" x2="245.75" y2="400.00" stroke="#161616" stroke-width="0.8"/>
<line x1="244.85" y1="394.00" x2="246.65" y2="394.00" stroke="#161616" stroke-width="0.7"/>
<line x1="244.85" y1="400.00" x2="246.65" y2="400.00" stroke="#161616" stroke-width="0.7"/>
<line x1="252.50" y1="389.25" x2="252.50" y2="394.25" stroke="#161616" stroke-width="0.8"/>
<line x1="251.60" y1="389.25" x2="253.40" y2="389.25" stroke="#161616" stroke-width="0.7"/>
<line x1="251.60" y1="394.25" x2="253.40" y2="394.25" stroke="#161616" stroke-width="0.7"/>
<polyline points="170.00,446.75 176.75,443.00 183.75,439.25 190.75,435.75 198.00,433.00 204.50,429.50 211.50,423.75 218.25,418.25 225.00,415.00 232.00,409.50 238.75,403.75 245.75,397.00 252.50,391.75" fill="none" stroke="#161616" stroke-width="0.95" stroke-linejoin="round"/>
<circle cx="170.00" cy="446.75" r="0.85" fill="#161616"/>
<circle cx="176.75" cy="443.00" r="0.85" fill="#161616"/>
<circle cx="183.75" cy="439.25" r="0.85" fill="#161616"/>
<circle cx="190.75" cy="435.75" r="0.85" fill="#161616"/>
<circle cx="198.00" cy="433.00" r="0.85" fill="#161616"/>
<circle cx="204.50" cy="429.50" r="0.85" fill="#161616"/>
<circle cx="211.50" cy="423.75" r="0.85" fill="#161616"/>
<circle cx="218.25" cy="418.25" r="0.85" fill="#161616"/>
<circle cx="225.00" cy="415.00" r="0.85" fill="#161616"/>
<circle cx="232.00" cy="409.50" r="0.85" fill="#161616"/>
<circle cx="238.75" cy="403.75" r="0.85" fill="#161616"/>
<circle cx="245.75" cy="397.00" r="0.85" fill="#161616"/>
<circle cx="252.50" cy="391.75" r="0.85" fill="#161616"/>
<line x1="169.60" y1="392.20" x2="181.20" y2="392.20" stroke="#161616" stroke-width="0.95"/>
<circle cx="175.40" cy="392.20" r="0.9" fill="#161616"/>
<text x="185.00" y="395.10" font-size="8.2" font-weight="bold" textLength="13.20" lengthAdjust="spacingAndGlyphs" fill="#111" stroke="#111" stroke-width="0.18">Ctrl</text>
<line x1="169.60" y1="398.90" x2="181.20" y2="398.90" stroke="#74ad96" stroke-width="0.9"/>
<circle cx="175.40" cy="398.90" r="0.8" fill="#74ad96"/>
<text x="185.00" y="401.80" font-size="8.2" font-weight="bold" textLength="16.60" lengthAdjust="spacingAndGlyphs" fill="#111" stroke="#111" stroke-width="0.18">Mon</text>
</g>
<g id="panelE3">
<rect x="288.90" y="386.90" width="98.70" height="69.40" fill="#fff" stroke="#2c2c2c" stroke-width="0.95"/>
<text x="306.20" y="383.90" font-size="9.3" font-weight="bold" textLength="14.00" lengthAdjust="spacingAndGlyphs" fill="#111" stroke="#111" stroke-width="0.18">42F</text>
<text x="320.50" y="380.80" font-size="4.7" font-weight="bold" textLength="12.40" lengthAdjust="spacingAndGlyphs" fill="#222" stroke="#222" stroke-width="0.12">ENZR</text>
<text x="341.50" y="383.90" font-size="9.3" font-weight="bold" textLength="24.50" lengthAdjust="spacingAndGlyphs" fill="#111" stroke="#111" stroke-width="0.18">ALDH</text>
<text x="366.40" y="380.80" font-size="4.7" font-weight="bold" textLength="9.30" lengthAdjust="spacingAndGlyphs" fill="#222" stroke="#222" stroke-width="0.12">Low</text>
<text x="272.95" y="418.50" font-size="9.8" text-anchor="middle" textLength="85.00" lengthAdjust="spacingAndGlyphs" fill="#2b2b2b" stroke="#2b2b2b" stroke-width="0.22" transform="rotate(-90 272.95 418.50)">Relative confluence</text>
<line x1="287.60" y1="386.90" x2="288.90" y2="386.90" stroke="#2c2c2c" stroke-width="0.6"/>
<text x="287.20" y="389.10" font-size="8" text-anchor="end" textLength="10.00" lengthAdjust="spacingAndGlyphs" fill="#333" stroke="#333" stroke-width="0.22">4.0</text>
<line x1="287.60" y1="396.80" x2="288.90" y2="396.80" stroke="#2c2c2c" stroke-width="0.6"/>
<text x="287.20" y="399.00" font-size="8" text-anchor="end" textLength="10.00" lengthAdjust="spacingAndGlyphs" fill="#333" stroke="#333" stroke-width="0.22">3.5</text>
<line x1="287.60" y1="406.70" x2="288.90" y2="406.70" stroke="#2c2c2c" stroke-width="0.6"/>
<text x="287.20" y="408.90" font-size="8" text-anchor="end" textLength="10.00" lengthAdjust="spacingAndGlyphs" fill="#333" stroke="#333" stroke-width="0.22">3.0</text>
<line x1="287.60" y1="416.60" x2="288.90" y2="416.60" stroke="#2c2c2c" stroke-width="0.6"/>
<text x="287.20" y="418.80" font-size="8" text-anchor="end" textLength="10.00" lengthAdjust="spacingAndGlyphs" fill="#333" stroke="#333" stroke-width="0.22">2.5</text>
<line x1="287.60" y1="426.50" x2="288.90" y2="426.50" stroke="#2c2c2c" stroke-width="0.6"/>
<text x="287.20" y="428.70" font-size="8" text-anchor="end" textLength="10.00" lengthAdjust="spacingAndGlyphs" fill="#333" stroke="#333" stroke-width="0.22">2.0</text>
<line x1="287.60" y1="436.50" x2="288.90" y2="436.50" stroke="#2c2c2c" stroke-width="0.6"/>
<text x="287.20" y="438.70" font-size="8" text-anchor="end" textLength="10.00" lengthAdjust="spacingAndGlyphs" fill="#333" stroke="#333" stroke-width="0.22">1.5</text>
<line x1="287.60" y1="446.40" x2="288.90" y2="446.40" stroke="#2c2c2c" stroke-width="0.6"/>
<text x="287.20" y="448.60" font-size="8" text-anchor="end" textLength="10.00" lengthAdjust="spacingAndGlyphs" fill="#333" stroke="#333" stroke-width="0.22">1.0</text>
<line x1="287.60" y1="456.30" x2="288.90" y2="456.30" stroke="#2c2c2c" stroke-width="0.6"/>
<text x="287.20" y="458.50" font-size="8" text-anchor="end" textLength="10.00" lengthAdjust="spacingAndGlyphs" fill="#333" stroke="#333" stroke-width="0.22">0.0</text>
<line x1="295.60" y1="456.30" x2="295.60" y2="457.60" stroke="#2c2c2c" stroke-width="0.6"/>
<text x="295.60" y="463.90" font-size="8" text-anchor="middle" textLength="4.00" lengthAdjust="spacingAndGlyphs" fill="#333" stroke="#333" stroke-width="0.22">0</text>
<line x1="318.90" y1="456.30" x2="318.90" y2="457.60" stroke="#2c2c2c" stroke-width="0.6"/>
<text x="318.90" y="463.90" font-size="8" text-anchor="middle" textLength="8.01" lengthAdjust="spacingAndGlyphs" fill="#333" stroke="#333" stroke-width="0.22">20</text>
<line x1="342.00" y1="456.30" x2="342.00" y2="457.60" stroke="#2c2c2c" stroke-width="0.6"/>
<text x="342.00" y="463.90" font-size="8" text-anchor="middle" textLength="8.01" lengthAdjust="spacingAndGlyphs" fill="#333" stroke="#333" stroke-width="0.22">40</text>
<line x1="364.60" y1="456.30" x2="364.60" y2="457.60" stroke="#2c2c2c" stroke-width="0.6"/>
<text x="364.60" y="463.90" font-size="8" text-anchor="middle" textLength="8.01" lengthAdjust="spacingAndGlyphs" fill="#333" stroke="#333" stroke-width="0.22">60</text>
<line x1="386.20" y1="456.30" x2="386.20" y2="457.60" stroke="#2c2c2c" stroke-width="0.6"/>
<text x="386.20" y="463.90" font-size="8" text-anchor="middle" textLength="8.01" lengthAdjust="spacingAndGlyphs" fill="#333" stroke="#333" stroke-width="0.22">80</text>
<text x="324.40" y="477.40" font-size="10" textLength="36.30" lengthAdjust="spacingAndGlyphs" fill="#2b2b2b" stroke="#2b2b2b" stroke-width="0.22">Time (h)</text>
<line x1="296.25" y1="444.50" x2="296.25" y2="449.50" stroke="#d9626b" stroke-width="0.8"/>
<line x1="295.35" y1="444.50" x2="297.15" y2="444.50" stroke="#d9626b" stroke-width="0.7"/>
<line x1="295.35" y1="449.50" x2="297.15" y2="449.50" stroke="#d9626b" stroke-width="0.7"/>
<line x1="303.00" y1="435.00" x2="303.00" y2="439.00" stroke="#d9626b" stroke-width="0.8"/>
<line x1="302.10" y1="435.00" x2="303.90" y2="435.00" stroke="#d9626b" stroke-width="0.7"/>
<line x1="302.10" y1="439.00" x2="303.90" y2="439.00" stroke="#d9626b" stroke-width="0.7"/>
<line x1="310.00" y1="428.50" x2="310.00" y2="437.50" stroke="#d9626b" stroke-width="0.8"/>
<line x1="309.10" y1="428.50" x2="310.90" y2="428.50" stroke="#d9626b" stroke-width="0.7"/>
<line x1="309.10" y1="437.50" x2="310.90" y2="437.50" stroke="#d9626b" stroke-width="0.7"/>
<line x1="317.00" y1="431.00" x2="317.00" y2="439.00" stroke="#d9626b" stroke-width="0.8"/>
<line x1="316.10" y1="431.00" x2="317.90" y2="431.00" stroke="#d9626b" stroke-width="0.7"/>
<line x1="316.10" y1="439.00" x2="317.90" y2="439.00" stroke="#d9626b" stroke-width="0.7"/>
<line x1="323.75" y1="427.50" x2="323.75" y2="431.50" stroke="#d9626b" stroke-width="0.8"/>
<line x1="322.85" y1="427.50" x2="324.65" y2="427.50" stroke="#d9626b" stroke-width="0.7"/>
<line x1="322.85" y1="431.50" x2="324.65" y2="431.50" stroke="#d9626b" stroke-width="0.7"/>
<line x1="330.75" y1="426.70" x2="330.75" y2="428.30" stroke="#d9626b" stroke-width="0.8"/>
<line x1="329.85" y1="426.70" x2="331.65" y2="426.70" stroke="#d9626b" stroke-width="0.7"/>
<line x1="329.85" y1="428.30" x2="331.65" y2="428.30" stroke="#d9626b" stroke-width="0.7"/>
<line x1="337.50" y1="423.45" x2="337.50" y2="425.05" stroke="#d9626b" stroke-width="0.8"/>
<line x1="336.60" y1="423.45" x2="338.40" y2="423.45" stroke="#d9626b" stroke-width="0.7"/>
<line x1="336.60" y1="425.05" x2="338.40" y2="425.05" stroke="#d9626b" stroke-width="0.7"/>
<line x1="344.25" y1="417.50" x2="344.25" y2="423.50" stroke="#d9626b" stroke-width="0.8"/>
<line x1="343.35" y1="417.50" x2="345.15" y2="417.50" stroke="#d9626b" stroke-width="0.7"/>
<line x1="343.35" y1="423.50" x2="345.15" y2="423.50" stroke="#d9626b" stroke-width="0.7"/>
<line x1="351.25" y1="417.25" x2="351.25" y2="419.25" stroke="#d9626b" stroke-width="0.8"/>
<line x1="350.35" y1="417.25" x2="352.15" y2="417.25" stroke="#d9626b" stroke-width="0.7"/>
<line x1="350.35" y1="419.25" x2="352.15" y2="419.25" stroke="#d9626b" stroke-width="0.7"/>
<line x1="358.00" y1="413.75" x2="358.00" y2="418.75" stroke="#d9626b" stroke-width="0.8"/>
<line x1="357.10" y1="413.75" x2="358.90" y2="413.75" stroke="#d9626b" stroke-width="0.7"/>
<line x1="357.10" y1="418.75" x2="358.90" y2="418.75" stroke="#d9626b" stroke-width="0.7"/>
<line x1="365.00" y1="408.75" x2="365.00" y2="413.75" stroke="#d9626b" stroke-width="0.8"/>
<line x1="364.10" y1="408.75" x2="365.90" y2="408.75" stroke="#d9626b" stroke-width="0.7"/>
<line x1="364.10" y1="413.75" x2="365.90" y2="413.75" stroke="#d9626b" stroke-width="0.7"/>
<line x1="371.75" y1="405.00" x2="371.75" y2="409.00" stroke="#d9626b" stroke-width="0.8"/>
<line x1="370.85" y1="405.00" x2="372.65" y2="405.00" stroke="#d9626b" stroke-width="0.7"/>
<line x1="370.85" y1="409.00" x2="372.65" y2="409.00" stroke="#d9626b" stroke-width="0.7"/>
<line x1="378.50" y1="401.50" x2="378.50" y2="408.50" stroke="#d9626b" stroke-width="0.8"/>
<line x1="377.60" y1="401.50" x2="379.40" y2="401.50" stroke="#d9626b" stroke-width="0.7"/>
<line x1="377.60" y1="408.50" x2="379.40" y2="408.50" stroke="#d9626b" stroke-width="0.7"/>
<polyline points="296.25,447.00 303.00,437.00 310.00,433.00 317.00,435.00 323.75,429.50 330.75,427.50 337.50,424.25 344.25,420.50 351.25,418.25 358.00,416.25 365.00,411.25 371.75,407.00 378.50,405.00" fill="none" stroke="#d9626b" stroke-width="0.95" stroke-linejoin="round"/>
<circle cx="296.25" cy="447.00" r="0.75" fill="#d9626b"/>
<circle cx="303.00" cy="437.00" r="0.75" fill="#d9626b"/>
<circle cx="310.00" cy="433.00" r="0.75" fill="#d9626b"/>
<circle cx="317.00" cy="435.00" r="0.75" fill="#d9626b"/>
<circle cx="323.75" cy="429.50" r="0.75" fill="#d9626b"/>
<circle cx="330.75" cy="427.50" r="0.75" fill="#d9626b"/>
<circle cx="337.50" cy="424.25" r="0.75" fill="#d9626b"/>
<circle cx="344.25" cy="420.50" r="0.75" fill="#d9626b"/>
<circle cx="351.25" cy="418.25" r="0.75" fill="#d9626b"/>
<circle cx="358.00" cy="416.25" r="0.75" fill="#d9626b"/>
<circle cx="365.00" cy="411.25" r="0.75" fill="#d9626b"/>
<circle cx="371.75" cy="407.00" r="0.75" fill="#d9626b"/>
<circle cx="378.50" cy="405.00" r="0.75" fill="#d9626b"/>
<line x1="296.25" y1="444.75" x2="296.25" y2="447.75" stroke="#161616" stroke-width="0.8"/>
<line x1="295.35" y1="444.75" x2="297.15" y2="444.75" stroke="#161616" stroke-width="0.7"/>
<line x1="295.35" y1="447.75" x2="297.15" y2="447.75" stroke="#161616" stroke-width="0.7"/>
<line x1="303.00" y1="436.00" x2="303.00" y2="440.00" stroke="#161616" stroke-width="0.8"/>
<line x1="302.10" y1="436.00" x2="303.90" y2="436.00" stroke="#161616" stroke-width="0.7"/>
<line x1="302.10" y1="440.00" x2="303.90" y2="440.00" stroke="#161616" stroke-width="0.7"/>
<line x1="310.00" y1="433.75" x2="310.00" y2="439.75" stroke="#161616" stroke-width="0.8"/>
<line x1="309.10" y1="433.75" x2="310.90" y2="433.75" stroke="#161616" stroke-width="0.7"/>
<line x1="309.10" y1="439.75" x2="310.90" y2="439.75" stroke="#161616" stroke-width="0.7"/>
<line x1="317.00" y1="435.25" x2="317.00" y2="443.25" stroke="#161616" stroke-width="0.8"/>
<line x1="316.10" y1="435.25" x2="317.90" y2="435.25" stroke="#161616" stroke-width="0.7"/>
<line x1="316.10" y1="443.25" x2="317.90" y2="443.25" stroke="#161616" stroke-width="0.7"/>
<line x1="323.75" y1="430.25" x2="323.75" y2="432.25" stroke="#161616" stroke-width="0.8"/>
<line x1="322.85" y1="430.25" x2="324.65" y2="430.25" stroke="#161616" stroke-width="0.7"/>
<line x1="322.85" y1="432.25" x2="324.65" y2="432.25" stroke="#161616" stroke-width="0.7"/>
<line x1="330.75" y1="427.95" x2="330.75" y2="429.55" stroke="#161616" stroke-width="0.8"/>
<line x1="329.85" y1="427.95" x2="331.65" y2="427.95" stroke="#161616" stroke-width="0.7"/>
<line x1="329.85" y1="429.55" x2="331.65" y2="429.55" stroke="#161616" stroke-width="0.7"/>
<line x1="337.50" y1="424.20" x2="337.50" y2="425.80" stroke="#161616" stroke-width="0.8"/>
<line x1="336.60" y1="424.20" x2="338.40" y2="424.20" stroke="#161616" stroke-width="0.7"/>
<line x1="336.60" y1="425.80" x2="338.40" y2="425.80" stroke="#161616" stroke-width="0.7"/>
<line x1="344.25" y1="419.25" x2="344.25" y2="423.25" stroke="#161616" stroke-width="0.8"/>
<line x1="343.35" y1="419.25" x2="345.15" y2="419.25" stroke="#161616" stroke-width="0.7"/>
<line x1="343.35" y1="423.25" x2="345.15" y2="423.25" stroke="#161616" stroke-width="0.7"/>
<line x1="351.25" y1="421.00" x2="351.25" y2="424.00" stroke="#161616" stroke-width="0.8"/>
<line x1="350.35" y1="421.00" x2="352.15" y2="421.00" stroke="#161616" stroke-width="0.7"/>
<line x1="350.35" y1="424.00" x2="352.15" y2="424.00" stroke="#161616" stroke-width="0.7"/>
<line x1="358.00" y1="416.75" x2="358.00" y2="420.75" stroke="#161616" stroke-width="0.8"/>
<line x1="357.10" y1="416.75" x2="358.90" y2="416.75" stroke="#161616" stroke-width="0.7"/>
<line x1="357.10" y1="420.75" x2="358.90" y2="420.75" stroke="#161616" stroke-width="0.7"/>
<line x1="365.00" y1="399.25" x2="365.00" y2="409.25" stroke="#161616" stroke-width="0.8"/>
<line x1="364.10" y1="399.25" x2="365.90" y2="399.25" stroke="#161616" stroke-width="0.7"/>
<line x1="364.10" y1="409.25" x2="365.90" y2="409.25" stroke="#161616" stroke-width="0.7"/>
<line x1="371.75" y1="398.50" x2="371.75" y2="401.50" stroke="#161616" stroke-width="0.8"/>
<line x1="370.85" y1="398.50" x2="372.65" y2="398.50" stroke="#161616" stroke-width="0.7"/>
<line x1="370.85" y1="401.50" x2="372.65" y2="401.50" stroke="#161616" stroke-width="0.7"/>
<line x1="378.50" y1="394.75" x2="378.50" y2="397.75" stroke="#161616" stroke-width="0.8"/>
<line x1="377.60" y1="394.75" x2="379.40" y2="394.75" stroke="#161616" stroke-width="0.7"/>
<line x1="377.60" y1="397.75" x2="379.40" y2="397.75" stroke="#161616" stroke-width="0.7"/>
<polyline points="296.25,446.25 303.00,438.00 310.00,436.75 317.00,439.25 323.75,431.25 330.75,428.75 337.50,425.00 344.25,421.25 351.25,422.50 358.00,418.75 365.00,404.25 371.75,400.00 378.50,396.25" fill="none" stroke="#161616" stroke-width="0.95" stroke-linejoin="round"/>
<circle cx="296.25" cy="446.25" r="0.85" fill="#161616"/>
<circle cx="303.00" cy="438.00" r="0.85" fill="#161616"/>
<circle cx="310.00" cy="436.75" r="0.85" fill="#161616"/>
<circle cx="317.00" cy="439.25" r="0.85" fill="#161616"/>
<circle cx="323.75" cy="431.25" r="0.85" fill="#161616"/>
<circle cx="330.75" cy="428.75" r="0.85" fill="#161616"/>
<circle cx="337.50" cy="425.00" r="0.85" fill="#161616"/>
<circle cx="344.25" cy="421.25" r="0.85" fill="#161616"/>
<circle cx="351.25" cy="422.50" r="0.85" fill="#161616"/>
<circle cx="358.00" cy="418.75" r="0.85" fill="#161616"/>
<circle cx="365.00" cy="404.25" r="0.85" fill="#161616"/>
<circle cx="371.75" cy="400.00" r="0.85" fill="#161616"/>
<circle cx="378.50" cy="396.25" r="0.85" fill="#161616"/>
<line x1="294.60" y1="395.60" x2="306.60" y2="395.60" stroke="#161616" stroke-width="0.95"/>
<circle cx="300.60" cy="395.60" r="0.9" fill="#161616"/>
<text x="309.80" y="398.50" font-size="8.2" font-weight="bold" textLength="13.20" lengthAdjust="spacingAndGlyphs" fill="#111" stroke="#111" stroke-width="0.18">Ctrl</text>
<line x1="294.60" y1="402.50" x2="306.60" y2="402.50" stroke="#d9626b" stroke-width="0.9"/>
<circle cx="300.60" cy="402.50" r="0.8" fill="#d9626b"/>
<text x="309.80" y="405.40" font-size="8.2" font-weight="bold" textLength="16.60" lengthAdjust="spacingAndGlyphs" fill="#111" stroke="#111" stroke-width="0.18">Mon</text>
</g>
<g id="panelE4">
<rect x="419.60" y="386.50" width="98.20" height="68.90" fill="#fff" stroke="#9b9b9b" stroke-width="0.95"/>
<text x="433.80" y="383.20" font-size="9.3" font-weight="bold" textLength="14.00" lengthAdjust="spacingAndGlyphs" fill="#111" stroke="#111" stroke-width="0.18">42F</text>
<text x="448.10" y="380.10" font-size="4.7" font-weight="bold" textLength="12.40" lengthAdjust="spacingAndGlyphs" fill="#222" stroke="#222" stroke-width="0.12">ENZR</text>
<text x="469.10" y="383.20" font-size="9.3" font-weight="bold" textLength="24.50" lengthAdjust="spacingAndGlyphs" fill="#111" stroke="#111" stroke-width="0.18">ALDH</text>
<text x="494.00" y="380.10" font-size="4.7" font-weight="bold" textLength="10.20" lengthAdjust="spacingAndGlyphs" fill="#222" stroke="#222" stroke-width="0.12">High</text>
<text x="403.05" y="418.50" font-size="9.8" text-anchor="middle" textLength="85.00" lengthAdjust="spacingAndGlyphs" fill="#2b2b2b" stroke="#2b2b2b" stroke-width="0.22" transform="rotate(-90 403.05 418.50)">Relative confluence</text>
<line x1="418.30" y1="386.40" x2="419.60" y2="386.40" stroke="#9b9b9b" stroke-width="0.6"/>
<text x="417.90" y="388.60" font-size="8" text-anchor="end" textLength="10.00" lengthAdjust="spacingAndGlyphs" fill="#333" stroke="#333" stroke-width="0.22">6.0</text>
<line x1="418.30" y1="397.80" x2="419.60" y2="397.80" stroke="#9b9b9b" stroke-width="0.6"/>
<text x="417.90" y="400.00" font-size="8" text-anchor="end" textLength="10.00" lengthAdjust="spacingAndGlyphs" fill="#333" stroke="#333" stroke-width="0.22">5.0</text>
<line x1="418.30" y1="409.20" x2="419.60" y2="409.20" stroke="#9b9b9b" stroke-width="0.6"/>
<text x="417.90" y="411.40" font-size="8" text-anchor="end" textLength="10.00" lengthAdjust="spacingAndGlyphs" fill="#333" stroke="#333" stroke-width="0.22">4.0</text>
<line x1="418.30" y1="420.60" x2="419.60" y2="420.60" stroke="#9b9b9b" stroke-width="0.6"/>
<text x="417.90" y="422.80" font-size="8" text-anchor="end" textLength="10.00" lengthAdjust="spacingAndGlyphs" fill="#333" stroke="#333" stroke-width="0.22">3.0</text>
<line x1="418.30" y1="432.00" x2="419.60" y2="432.00" stroke="#9b9b9b" stroke-width="0.6"/>
<text x="417.90" y="434.20" font-size="8" text-anchor="end" textLength="10.00" lengthAdjust="spacingAndGlyphs" fill="#333" stroke="#333" stroke-width="0.22">2.0</text>
<line x1="418.30" y1="443.50" x2="419.60" y2="443.50" stroke="#9b9b9b" stroke-width="0.6"/>
<text x="417.90" y="445.70" font-size="8" text-anchor="end" textLength="10.00" lengthAdjust="spacingAndGlyphs" fill="#333" stroke="#333" stroke-width="0.22">1.0</text>
<line x1="418.30" y1="455.00" x2="419.60" y2="455.00" stroke="#9b9b9b" stroke-width="0.6"/>
<text x="417.90" y="457.20" font-size="8" text-anchor="end" textLength="10.00" lengthAdjust="spacingAndGlyphs" fill="#333" stroke="#333" stroke-width="0.22">0.0</text>
<line x1="425.60" y1="455.40" x2="425.60" y2="456.70" stroke="#9b9b9b" stroke-width="0.6"/>
<text x="425.60" y="463.90" font-size="8" text-anchor="middle" textLength="4.00" lengthAdjust="spacingAndGlyphs" fill="#333" stroke="#333" stroke-width="0.22">0</text>
<line x1="448.70" y1="455.40" x2="448.70" y2="456.70" stroke="#9b9b9b" stroke-width="0.6"/>
<text x="448.70" y="463.90" font-size="8" text-anchor="middle" textLength="8.01" lengthAdjust="spacingAndGlyphs" fill="#333" stroke="#333" stroke-width="0.22">20</text>
<line x1="471.70" y1="455.40" x2="471.70" y2="456.70" stroke="#9b9b9b" stroke-width="0.6"/>
<text x="471.70" y="463.90" font-size="8" text-anchor="middle" textLength="8.01" lengthAdjust="spacingAndGlyphs" fill="#333" stroke="#333" stroke-width="0.22">40</text>
<line x1="494.40" y1="455.40" x2="494.40" y2="456.70" stroke="#9b9b9b" stroke-width="0.6"/>
<text x="494.40" y="463.90" font-size="8" text-anchor="middle" textLength="8.01" lengthAdjust="spacingAndGlyphs" fill="#333" stroke="#333" stroke-width="0.22">60</text>
<line x1="516.20" y1="455.40" x2="516.20" y2="456.70" stroke="#9b9b9b" stroke-width="0.6"/>
<text x="516.20" y="463.90" font-size="8" text-anchor="middle" textLength="8.01" lengthAdjust="spacingAndGlyphs" fill="#333" stroke="#333" stroke-width="0.22">80</text>
<text x="454.10" y="477.40" font-size="10" textLength="36.30" lengthAdjust="spacingAndGlyphs" fill="#2b2b2b" stroke="#2b2b2b" stroke-width="0.22">Time (h)</text>
<line x1="426.25" y1="443.35" x2="426.25" y2="445.15" stroke="#74ad96" stroke-width="0.8"/>
<line x1="425.35" y1="443.35" x2="427.15" y2="443.35" stroke="#74ad96" stroke-width="0.7"/>
<line x1="425.35" y1="445.15" x2="427.15" y2="445.15" stroke="#74ad96" stroke-width="0.7"/>
<line x1="433.00" y1="439.75" x2="433.00" y2="441.25" stroke="#74ad96" stroke-width="0.8"/>
<line x1="432.10" y1="439.75" x2="433.90" y2="439.75" stroke="#74ad96" stroke-width="0.7"/>
<line x1="432.10" y1="441.25" x2="433.90" y2="441.25" stroke="#74ad96" stroke-width="0.7"/>
<line x1="440.00" y1="437.40" x2="440.00" y2="438.60" stroke="#74ad96" stroke-width="0.8"/>
<line x1="439.10" y1="437.40" x2="440.90" y2="437.40" stroke="#74ad96" stroke-width="0.7"/>
<line x1="439.10" y1="438.60" x2="440.90" y2="438.60" stroke="#74ad96" stroke-width="0.7"/>
<line x1="447.00" y1="436.00" x2="447.00" y2="440.50" stroke="#74ad96" stroke-width="0.8"/>
<line x1="446.10" y1="436.00" x2="447.90" y2="436.00" stroke="#74ad96" stroke-width="0.7"/>
<line x1="446.10" y1="440.50" x2="447.90" y2="440.50" stroke="#74ad96" stroke-width="0.7"/>
<line x1="453.75" y1="434.40" x2="453.75" y2="435.60" stroke="#74ad96" stroke-width="0.8"/>
<line x1="452.85" y1="434.40" x2="454.65" y2="434.40" stroke="#74ad96" stroke-width="0.7"/>
<line x1="452.85" y1="435.60" x2="454.65" y2="435.60" stroke="#74ad96" stroke-width="0.7"/>
<line x1="460.75" y1="431.40" x2="460.75" y2="432.60" stroke="#74ad96" stroke-width="0.8"/>
<line x1="459.85" y1="431.40" x2="461.65" y2="431.40" stroke="#74ad96" stroke-width="0.7"/>
<line x1="459.85" y1="432.60" x2="461.65" y2="432.60" stroke="#74ad96" stroke-width="0.7"/>
<line x1="467.50" y1="429.40" x2="467.50" y2="430.60" stroke="#74ad96" stroke-width="0.8"/>
<line x1="466.60" y1="429.40" x2="468.40" y2="429.40" stroke="#74ad96" stroke-width="0.7"/>
<line x1="466.60" y1="430.60" x2="468.40" y2="430.60" stroke="#74ad96" stroke-width="0.7"/>
<line x1="474.25" y1="428.50" x2="474.25" y2="430.00" stroke="#74ad96" stroke-width="0.8"/>
<line x1="473.35" y1="428.50" x2="475.15" y2="428.50" stroke="#74ad96" stroke-width="0.7"/>
<line x1="473.35" y1="430.00" x2="475.15" y2="430.00" stroke="#74ad96" stroke-width="0.7"/>
<line x1="481.25" y1="427.10" x2="481.25" y2="428.90" stroke="#74ad96" stroke-width="0.8"/>
<line x1="480.35" y1="427.10" x2="482.15" y2="427.10" stroke="#74ad96" stroke-width="0.7"/>
<line x1="480.35" y1="428.90" x2="482.15" y2="428.90" stroke="#74ad96" stroke-width="0.7"/>
<line x1="488.00" y1="425.25" x2="488.00" y2="428.25" stroke="#74ad96" stroke-width="0.8"/>
<line x1="487.10" y1="425.25" x2="488.90" y2="425.25" stroke="#74ad96" stroke-width="0.7"/>
<line x1="487.10" y1="428.25" x2="488.90" y2="428.25" stroke="#74ad96" stroke-width="0.7"/>
<line x1="495.00" y1="423.62" x2="495.00" y2="428.88" stroke="#74ad96" stroke-width="0.8"/>
<line x1="494.10" y1="423.62" x2="495.90" y2="423.62" stroke="#74ad96" stroke-width="0.7"/>
<line x1="494.10" y1="428.88" x2="495.90" y2="428.88" stroke="#74ad96" stroke-width="0.7"/>
<line x1="501.75" y1="423.15" x2="501.75" y2="424.35" stroke="#74ad96" stroke-width="0.8"/>
<line x1="500.85" y1="423.15" x2="502.65" y2="423.15" stroke="#74ad96" stroke-width="0.7"/>
<line x1="500.85" y1="424.35" x2="502.65" y2="424.35" stroke="#74ad96" stroke-width="0.7"/>
<line x1="508.50" y1="419.00" x2="508.50" y2="423.50" stroke="#74ad96" stroke-width="0.8"/>
<line x1="507.60" y1="419.00" x2="509.40" y2="419.00" stroke="#74ad96" stroke-width="0.7"/>
<line x1="507.60" y1="423.50" x2="509.40" y2="423.50" stroke="#74ad96" stroke-width="0.7"/>
<polyline points="426.25,444.25 433.00,440.50 440.00,438.00 447.00,438.25 453.75,435.00 460.75,432.00 467.50,430.00 474.25,429.25 481.25,428.00 488.00,426.75 495.00,426.25 501.75,423.75 508.50,421.25" fill="none" stroke="#74ad96" stroke-width="0.8" stroke-linejoin="round"/>
<circle cx="426.25" cy="444.25" r="0.75" fill="#74ad96"/>
<circle cx="433.00" cy="440.50" r="0.75" fill="#74ad96"/>
<circle cx="440.00" cy="438.00" r="0.75" fill="#74ad96"/>
<circle cx="447.00" cy="438.25" r="0.75" fill="#74ad96"/>
<circle cx="453.75" cy="435.00" r="0.75" fill="#74ad96"/>
<circle cx="460.75" cy="432.00" r="0.75" fill="#74ad96"/>
<circle cx="467.50" cy="430.00" r="0.75" fill="#74ad96"/>
<circle cx="474.25" cy="429.25" r="0.75" fill="#74ad96"/>
<circle cx="481.25" cy="428.00" r="0.75" fill="#74ad96"/>
<circle cx="488.00" cy="426.75" r="0.75" fill="#74ad96"/>
<circle cx="495.00" cy="426.25" r="0.75" fill="#74ad96"/>
<circle cx="501.75" cy="423.75" r="0.75" fill="#74ad96"/>
<circle cx="508.50" cy="421.25" r="0.75" fill="#74ad96"/>
<line x1="426.25" y1="443.35" x2="426.25" y2="445.15" stroke="#4c4c4c" stroke-width="0.8"/>
<line x1="425.35" y1="443.35" x2="427.15" y2="443.35" stroke="#4c4c4c" stroke-width="0.7"/>
<line x1="425.35" y1="445.15" x2="427.15" y2="445.15" stroke="#4c4c4c" stroke-width="0.7"/>
<line x1="433.00" y1="436.75" x2="433.00" y2="439.75" stroke="#4c4c4c" stroke-width="0.8"/>
<line x1="432.10" y1="436.75" x2="433.90" y2="436.75" stroke="#4c4c4c" stroke-width="0.7"/>
<line x1="432.10" y1="439.75" x2="433.90" y2="439.75" stroke="#4c4c4c" stroke-width="0.7"/>
<line x1="440.00" y1="434.40" x2="440.00" y2="435.60" stroke="#4c4c4c" stroke-width="0.8"/>
<line x1="439.10" y1="434.40" x2="440.90" y2="434.40" stroke="#4c4c4c" stroke-width="0.7"/>
<line x1="439.10" y1="435.60" x2="440.90" y2="435.60" stroke="#4c4c4c" stroke-width="0.7"/>
<line x1="447.00" y1="434.40" x2="447.00" y2="435.60" stroke="#4c4c4c" stroke-width="0.8"/>
<line x1="446.10" y1="434.40" x2="447.90" y2="434.40" stroke="#4c4c4c" stroke-width="0.7"/>
<line x1="446.10" y1="435.60" x2="447.90" y2="435.60" stroke="#4c4c4c" stroke-width="0.7"/>
<line x1="453.75" y1="429.62" x2="453.75" y2="431.88" stroke="#4c4c4c" stroke-width="0.8"/>
<line x1="452.85" y1="429.62" x2="454.65" y2="429.62" stroke="#4c4c4c" stroke-width="0.7"/>
<line x1="452.85" y1="431.88" x2="454.65" y2="431.88" stroke="#4c4c4c" stroke-width="0.7"/>
<line x1="460.75" y1="426.38" x2="460.75" y2="428.62" stroke="#4c4c4c" stroke-width="0.8"/>
<line x1="459.85" y1="426.38" x2="461.65" y2="426.38" stroke="#4c4c4c" stroke-width="0.7"/>
<line x1="459.85" y1="428.62" x2="461.65" y2="428.62" stroke="#4c4c4c" stroke-width="0.7"/>
<line x1="467.50" y1="422.75" x2="467.50" y2="425.75" stroke="#4c4c4c" stroke-width="0.8"/>
<line x1="466.60" y1="422.75" x2="468.40" y2="422.75" stroke="#4c4c4c" stroke-width="0.7"/>
<line x1="466.60" y1="425.75" x2="468.40" y2="425.75" stroke="#4c4c4c" stroke-width="0.7"/>
<line x1="474.25" y1="421.40" x2="474.25" y2="422.60" stroke="#4c4c4c" stroke-width="0.8"/>
<line x1="473.35" y1="421.40" x2="475.15" y2="421.40" stroke="#4c4c4c" stroke-width="0.7"/>
<line x1="473.35" y1="422.60" x2="475.15" y2="422.60" stroke="#4c4c4c" stroke-width="0.7"/>
<line x1="481.25" y1="418.35" x2="481.25" y2="420.15" stroke="#4c4c4c" stroke-width="0.8"/>
<line x1="480.35" y1="418.35" x2="482.15" y2="418.35" stroke="#4c4c4c" stroke-width="0.7"/>
<line x1="480.35" y1="420.15" x2="482.15" y2="420.15" stroke="#4c4c4c" stroke-width="0.7"/>
<line x1="488.00" y1="412.62" x2="488.00" y2="414.88" stroke="#4c4c4c" stroke-width="0.8"/>
<line x1="487.10" y1="412.62" x2="488.90" y2="412.62" stroke="#4c4c4c" stroke-width="0.7"/>
<line x1="487.10" y1="414.88" x2="488.90" y2="414.88" stroke="#4c4c4c" stroke-width="0.7"/>
<line x1="495.00" y1="409.38" x2="495.00" y2="411.62" stroke="#4c4c4c" stroke-width="0.8"/>
<line x1="494.10" y1="409.38" x2="495.90" y2="409.38" stroke="#4c4c4c" stroke-width="0.7"/>
<line x1="494.10" y1="411.62" x2="495.90" y2="411.62" stroke="#4c4c4c" stroke-width="0.7"/>
<line x1="501.75" y1="402.62" x2="501.75" y2="404.88" stroke="#4c4c4c" stroke-width="0.8"/>
<line x1="500.85" y1="402.62" x2="502.65" y2="402.62" stroke="#4c4c4c" stroke-width="0.7"/>
<line x1="500.85" y1="404.88" x2="502.65" y2="404.88" stroke="#4c4c4c" stroke-width="0.7"/>
<line x1="508.50" y1="394.75" x2="508.50" y2="399.25" stroke="#4c4c4c" stroke-width="0.8"/>
<line x1="507.60" y1="394.75" x2="509.40" y2="394.75" stroke="#4c4c4c" stroke-width="0.7"/>
<line x1="507.60" y1="399.25" x2="509.40" y2="399.25" stroke="#4c4c4c" stroke-width="0.7"/>
<polyline points="426.25,444.25 433.00,438.25 440.00,435.00 447.00,435.00 453.75,430.75 460.75,427.50 467.50,424.25 474.25,422.00 481.25,419.25 488.00,413.75 495.00,410.50 501.75,403.75 508.50,397.00" fill="none" stroke="#4c4c4c" stroke-width="0.7" stroke-linejoin="round"/>
<circle cx="426.25" cy="444.25" r="0.95" fill="#141414"/>
<circle cx="433.00" cy="438.25" r="0.95" fill="#141414"/>
<circle cx="440.00" cy="435.00" r="0.95" fill="#141414"/>
<circle cx="447.00" cy="435.00" r="0.95" fill="#141414"/>
<circle cx="453.75" cy="430.75" r="0.95" fill="#141414"/>
<circle cx="460.75" cy="427.50" r="0.95" fill="#141414"/>
<circle cx="467.50" cy="424.25" r="0.95" fill="#141414"/>
<circle cx="474.25" cy="422.00" r="0.95" fill="#141414"/>
<circle cx="481.25" cy="419.25" r="0.95" fill="#141414"/>
<circle cx="488.00" cy="413.75" r="0.95" fill="#141414"/>
<circle cx="495.00" cy="410.50" r="0.95" fill="#141414"/>
<circle cx="501.75" cy="403.75" r="0.95" fill="#141414"/>
<circle cx="508.50" cy="397.00" r="0.95" fill="#141414"/>
<line x1="423.80" y1="395.00" x2="436.30" y2="395.00" stroke="#4c4c4c" stroke-width="0.7"/>
<circle cx="430.05" cy="395.00" r="0.9" fill="#141414"/>
<text x="439.30" y="397.90" font-size="8.2" font-weight="bold" textLength="13.20" lengthAdjust="spacingAndGlyphs" fill="#111" stroke="#111" stroke-width="0.18">Ctrl</text>
<line x1="423.80" y1="402.00" x2="436.30" y2="402.00" stroke="#74ad96" stroke-width="0.9"/>
<circle cx="430.05" cy="402.00" r="0.8" fill="#74ad96"/>
<text x="439.30" y="404.90" font-size="8.2" font-weight="bold" textLength="16.60" lengthAdjust="spacingAndGlyphs" fill="#111" stroke="#111" stroke-width="0.18">Mon</text>
</g>
<g id="panelF">
<text x="1.20" y="509.80" font-size="12.4" font-weight="bold" fill="#0c0c0c" stroke="#0c0c0c" stroke-width="0.45">F</text>
<text x="89.30" y="502.40" font-size="6.6" font-weight="bold" textLength="11.20" lengthAdjust="spacingAndGlyphs" fill="#222" stroke="#222" stroke-width="0.18">Ctrl</text>
<text x="136.30" y="502.20" font-size="6.6" font-weight="bold" textLength="33.70" lengthAdjust="spacingAndGlyphs" fill="#222" stroke="#222" stroke-width="0.18">10 nmol/L</text>
<text x="193.00" y="502.20" font-size="6.6" font-weight="bold" textLength="38.70" lengthAdjust="spacingAndGlyphs" fill="#222" stroke="#222" stroke-width="0.18">100 nmol/L</text>
<text x="33.10" y="539.90" font-size="10" font-weight="bold" textLength="16.22" lengthAdjust="spacingAndGlyphs" fill="#0e0e0e" stroke="#0e0e0e" stroke-width="0.3">42D</text>
<text x="49.72" y="536.57" font-size="4.8" font-weight="bold" textLength="13.10" lengthAdjust="spacingAndGlyphs" fill="#1c1c1c" stroke="#1c1c1c" stroke-width="0.15">ENZR</text>
<text x="33.10" y="588.70" font-size="10" font-weight="bold" textLength="14.91" lengthAdjust="spacingAndGlyphs" fill="#0e0e0e" stroke="#0e0e0e" stroke-width="0.3">42F</text>
<text x="48.41" y="585.34" font-size="4.8" font-weight="bold" textLength="13.23" lengthAdjust="spacingAndGlyphs" fill="#1c1c1c" stroke="#1c1c1c" stroke-width="0.15">ENZR</text>
<clipPath id="m11"><rect x="65.8" y="505" width="56.70" height="54.40"/></clipPath>
<g clip-path="url(#m11)">
<rect x="65.80" y="505.00" width="56.70" height="54.40" fill="#a5a5a5" stroke="none" stroke-width="0.8"/>
<g filter="url(#blob)" opacity="0.9">
<rect x="64.0" y="523.0" width="5.7" height="4.1" fill="#9d9d9d"/>
<rect x="65.4" y="519.4" width="3.1" height="4.3" fill="#9d9d9d"/>
<rect x="69.6" y="508.8" width="2.8" height="3.6" fill="#9d9d9d"/>
<rect x="68.1" y="522.8" width="4.9" height="2.6" fill="#9d9d9d"/>
<rect x="72.4" y="523.6" width="4.8" height="4.7" fill="#9d9d9d"/>
<rect x="69.8" y="531.7" width="4.3" height="2.7" fill="#9d9d9d"/>
<rect x="68.8" y="542.1" width="2.6" height="4.1" fill="#9d9d9d"/>
<rect x="69.7" y="514.1" width="4.3" height="4.7" fill="#9d9d9d"/>
<rect x="66.1" y="513.4" width="4.1" height="3.5" fill="#9d9d9d"/>
<rect x="72.3" y="528.8" width="5.4" height="5.0" fill="#9d9d9d"/>
<rect x="68.6" y="546.2" width="3.5" height="2.7" fill="#9d9d9d"/>
<rect x="63.7" y="544.4" width="5.5" height="3.9" fill="#9d9d9d"/>
<rect x="71.6" y="507.9" width="2.5" height="3.2" fill="#9d9d9d"/>
<rect x="62.3" y="535.1" width="5.9" height="3.9" fill="#9d9d9d"/>
<rect x="97.4" y="509.9" width="5.2" height="3.4" fill="#afafaf"/>
<rect x="97.7" y="512.2" width="5.9" height="5.2" fill="#afafaf"/>
<rect x="101.7" y="514.0" width="2.9" height="2.7" fill="#afafaf"/>
<rect x="107.0" y="516.6" width="4.5" height="4.1" fill="#afafaf"/>
<rect x="100.7" y="507.6" width="3.0" height="4.8" fill="#afafaf"/>
<rect x="96.6" y="512.4" width="3.2" height="3.4" fill="#afafaf"/>
<rect x="106.4" y="503.7" width="3.6" height="5.6" fill="#afafaf"/>
<rect x="94.5" y="512.6" width="5.5" height="4.7" fill="#afafaf"/>
<rect x="106.4" y="511.1" width="3.2" height="3.4" fill="#afafaf"/>
<rect x="94.5" y="517.0" width="3.5" height="2.8" fill="#afafaf"/>
<rect x="97.2" y="509.7" width="3.4" height="4.6" fill="#afafaf"/>
<rect x="90.7" y="512.1" width="5.9" height="4.2" fill="#afafaf"/>
<rect x="109.5" y="507.5" width="3.1" height="3.0" fill="#afafaf"/>
<rect x="107.6" y="505.3" width="3.4" height="3.2" fill="#afafaf"/>
<rect x="114.2" y="507.9" width="3.2" height="5.8" fill="#afafaf"/>
<rect x="89.1" y="507.6" width="4.0" height="2.9" fill="#afafaf"/>
<rect x="104.1" y="537.0" width="3.3" height="5.0" fill="#adadad"/>
<rect x="103.7" y="532.8" width="4.6" height="3.5" fill="#adadad"/>
<rect x="101.9" y="533.4" width="2.7" height="3.3" fill="#adadad"/>
<rect x="105.7" y="531.1" width="4.7" height="3.5" fill="#adadad"/>
<rect x="105.2" y="549.3" width="2.6" height="3.4" fill="#adadad"/>
<rect x="108.0" y="541.1" width="3.1" height="3.8" fill="#adadad"/>
<rect x="106.7" y="543.9" width="3.8" height="5.6" fill="#adadad"/>
<rect x="96.6" y="527.8" width="4.9" height="4.5" fill="#adadad"/>
<rect x="106.0" y="538.1" width="2.6" height="5.7" fill="#adadad"/>
<rect x="110.0" y="535.3" width="2.6" height="4.7" fill="#adadad"/>
<rect x="101.4" y="528.7" width="3.6" height="6.0" fill="#adadad"/>
<rect x="99.1" y="536.2" width="5.1" height="5.7" fill="#adadad"/>
<rect x="82.4" y="539.4" width="5.3" height="5.7" fill="#a9a9a9"/>
<rect x="82.4" y="541.4" width="5.7" height="5.5" fill="#a9a9a9"/>
<rect x="87.2" y="541.4" width="5.5" height="4.5" fill="#a9a9a9"/>
<rect x="78.7" y="549.4" width="4.5" height="4.6" fill="#a9a9a9"/>
<rect x="82.8" y="543.7" width="6.0" height="5.6" fill="#a9a9a9"/>
<rect x="77.6" y="549.6" width="5.1" height="4.5" fill="#a9a9a9"/>
<rect x="90.8" y="541.5" width="2.8" height="5.1" fill="#a9a9a9"/>
<rect x="84.2" y="545.6" width="4.2" height="3.3" fill="#a9a9a9"/>
<rect x="75.6" y="545.2" width="4.7" height="5.7" fill="#a9a9a9"/>
<rect x="92.3" y="545.8" width="3.6" height="4.9" fill="#a9a9a9"/>
<rect x="78.3" y="510.2" width="5.7" height="4.8" fill="#999999"/>
<rect x="80.8" y="506.9" width="3.6" height="4.8" fill="#999999"/>
<rect x="75.3" y="508.9" width="5.3" height="5.7" fill="#999999"/>
<rect x="74.2" y="511.7" width="4.5" height="3.6" fill="#999999"/>
<rect x="109.8" y="517.3" width="5.4" height="5.5" fill="#9b9b9b"/>
<rect x="115.5" y="517.2" width="3.5" height="3.1" fill="#9b9b9b"/>
<rect x="112.0" y="521.3" width="3.2" height="3.9" fill="#9b9b9b"/>
<rect x="109.0" y="517.4" width="3.6" height="5.4" fill="#9b9b9b"/>
<rect x="87.0" y="520.2" width="2.8" height="2.6" fill="#aeaeae"/>
<rect x="100.7" y="519.0" width="5.0" height="4.5" fill="#aeaeae"/>
<rect x="95.9" y="515.8" width="2.6" height="3.0" fill="#aeaeae"/>
<rect x="98.6" y="518.9" width="5.4" height="3.3" fill="#aeaeae"/>
<rect x="96.5" y="518.5" width="4.7" height="4.1" fill="#aeaeae"/>
<rect x="89.8" y="513.8" width="5.3" height="5.9" fill="#aeaeae"/>
<rect x="96.0" y="522.4" width="4.2" height="3.1" fill="#aeaeae"/>
<rect x="92.7" y="518.5" width="5.0" height="3.1" fill="#aeaeae"/>
</g>
<g filter="url(#blob2)">
<path d="M89.2 533.2 q0.6 -4.6 5 -5.4 q4.2 -0.8 6.4 2.4 q2.6 2.8 1 6.6 q-1 4 -5.2 4.4 q-3.6 0.6 -5.8 -2.2 q-1.8 -2.4 -1.4 -5.8z" fill="#8d8d8d" stroke="#4c4c4c" stroke-width="0.7"/>
<ellipse cx="93.2" cy="532.3" rx="2.8" ry="2.4" fill="#aaaaaa" stroke="#565656" stroke-width="0.5"/>
<ellipse cx="97.6" cy="536.8" rx="2.7" ry="2.3" fill="#7e7e7e" stroke="#4d4d4d" stroke-width="0.5"/>
<ellipse cx="97" cy="531.4" rx="1.9" ry="1.6" fill="#9c9c9c" stroke="#555" stroke-width="0.4"/>
<circle cx="91.2" cy="535.6" r="0.8" fill="#d8d8d8"/>
</g>
</g>
<line x1="94.80" y1="558.10" x2="121.40" y2="558.10" stroke="#1a1a1a" stroke-width="1.0"/>
<text x="108.10" y="556.80" font-size="4.3" text-anchor="middle" textLength="16.20" lengthAdjust="spacingAndGlyphs" fill="#333" stroke="#333" stroke-width="0.1">100 μm</text>
<clipPath id="m12"><rect x="124.8" y="505" width="57.00" height="54.40"/></clipPath>
<g clip-path="url(#m12)">
<rect x="124.80" y="505.00" width="57.00" height="54.40" fill="#a4a4a4" stroke="none" stroke-width="0.8"/>
<g filter="url(#blob)" opacity="0.9">
<rect x="132.3" y="517.3" width="4.9" height="4.3" fill="#adadad"/>
<rect x="136.4" y="507.1" width="3.9" height="5.3" fill="#adadad"/>
<rect x="144.1" y="517.5" width="5.8" height="5.0" fill="#adadad"/>
<rect x="131.9" y="514.0" width="4.7" height="5.7" fill="#adadad"/>
<rect x="129.1" y="511.3" width="5.6" height="5.3" fill="#adadad"/>
<rect x="125.2" y="516.1" width="4.8" height="3.2" fill="#adadad"/>
<rect x="139.5" y="507.3" width="4.7" height="5.0" fill="#adadad"/>
<rect x="139.1" y="510.9" width="5.9" height="5.9" fill="#adadad"/>
<rect x="138.2" y="507.5" width="3.6" height="5.7" fill="#adadad"/>
<rect x="130.7" y="520.0" width="2.8" height="4.0" fill="#adadad"/>
<rect x="136.8" y="508.8" width="4.2" height="2.6" fill="#adadad"/>
<rect x="144.5" y="517.3" width="5.3" height="3.1" fill="#adadad"/>
<rect x="138.0" y="510.0" width="3.0" height="3.0" fill="#adadad"/>
<rect x="134.0" y="507.9" width="5.4" height="4.9" fill="#adadad"/>
<rect x="127.2" y="537.0" width="5.8" height="2.8" fill="#ababab"/>
<rect x="130.9" y="534.8" width="3.5" height="5.1" fill="#ababab"/>
<rect x="128.3" y="534.9" width="5.5" height="4.5" fill="#ababab"/>
<rect x="130.2" y="538.2" width="5.5" height="5.7" fill="#ababab"/>
<rect x="133.4" y="532.9" width="5.9" height="4.3" fill="#ababab"/>
<rect x="134.0" y="541.6" width="4.4" height="4.3" fill="#ababab"/>
<rect x="175.9" y="515.1" width="5.9" height="4.3" fill="#989898"/>
<rect x="171.6" y="508.5" width="4.5" height="4.2" fill="#989898"/>
<rect x="176.7" y="517.0" width="4.4" height="3.9" fill="#989898"/>
<rect x="178.1" y="509.8" width="3.4" height="4.2" fill="#989898"/>
<rect x="166.4" y="514.5" width="5.4" height="5.7" fill="#989898"/>
<rect x="167.9" y="519.3" width="3.2" height="4.7" fill="#989898"/>
<rect x="175.3" y="521.0" width="5.2" height="2.6" fill="#989898"/>
<rect x="170.1" y="518.1" width="4.9" height="3.6" fill="#989898"/>
<rect x="166.7" y="509.8" width="2.9" height="5.1" fill="#989898"/>
<rect x="167.2" y="514.2" width="3.4" height="3.2" fill="#989898"/>
<rect x="164.0" y="516.6" width="3.8" height="3.9" fill="#989898"/>
<rect x="173.9" y="519.2" width="3.2" height="4.7" fill="#989898"/>
<rect x="154.5" y="526.7" width="5.5" height="4.6" fill="#999999"/>
<rect x="162.1" y="539.1" width="5.1" height="5.3" fill="#999999"/>
<rect x="157.4" y="533.5" width="3.6" height="5.7" fill="#999999"/>
<rect x="168.7" y="541.6" width="5.6" height="3.0" fill="#999999"/>
<rect x="164.8" y="534.4" width="3.4" height="2.8" fill="#999999"/>
<rect x="152.8" y="529.0" width="5.3" height="2.9" fill="#999999"/>
<rect x="163.4" y="532.0" width="2.6" height="3.2" fill="#999999"/>
<rect x="172.5" y="542.9" width="5.9" height="2.9" fill="#999999"/>
<rect x="166.2" y="533.9" width="4.3" height="4.9" fill="#999999"/>
<rect x="168.7" y="541.5" width="2.9" height="2.6" fill="#999999"/>
<rect x="155.3" y="528.2" width="4.5" height="3.0" fill="#999999"/>
<rect x="163.6" y="537.6" width="5.4" height="6.0" fill="#999999"/>
<rect x="172.5" y="545.3" width="2.7" height="5.8" fill="#999999"/>
<rect x="166.8" y="534.6" width="3.6" height="4.1" fill="#999999"/>
<rect x="162.3" y="541.3" width="4.6" height="2.5" fill="#9a9a9a"/>
<rect x="176.9" y="548.6" width="3.1" height="4.1" fill="#9a9a9a"/>
<rect x="162.0" y="540.9" width="3.2" height="3.1" fill="#9a9a9a"/>
<rect x="176.3" y="552.3" width="5.6" height="5.3" fill="#9a9a9a"/>
<rect x="176.7" y="549.5" width="4.7" height="3.9" fill="#9a9a9a"/>
<rect x="161.2" y="537.9" width="5.9" height="5.3" fill="#9a9a9a"/>
<rect x="174.5" y="548.8" width="5.1" height="5.2" fill="#9a9a9a"/>
<rect x="160.3" y="539.4" width="5.6" height="5.6" fill="#9a9a9a"/>
<rect x="172.3" y="544.8" width="5.2" height="3.9" fill="#9a9a9a"/>
<rect x="177.1" y="554.2" width="3.7" height="4.1" fill="#9a9a9a"/>
<rect x="142.8" y="550.1" width="4.7" height="4.7" fill="#979797"/>
<rect x="149.5" y="549.2" width="4.8" height="3.7" fill="#979797"/>
<rect x="134.3" y="548.0" width="4.4" height="3.9" fill="#979797"/>
<rect x="135.4" y="544.7" width="5.0" height="5.2" fill="#979797"/>
<rect x="156.4" y="550.3" width="4.7" height="5.1" fill="#979797"/>
<rect x="139.3" y="552.2" width="2.7" height="3.2" fill="#979797"/>
<rect x="150.8" y="551.3" width="3.4" height="5.7" fill="#979797"/>
<rect x="133.4" y="549.5" width="5.9" height="4.5" fill="#979797"/>
<rect x="134.9" y="546.1" width="5.3" height="2.8" fill="#979797"/>
<rect x="145.3" y="544.5" width="2.7" height="5.8" fill="#979797"/>
<rect x="139.3" y="550.3" width="3.1" height="4.2" fill="#979797"/>
<rect x="152.6" y="551.7" width="5.8" height="4.0" fill="#979797"/>
<rect x="136.4" y="547.7" width="3.8" height="3.5" fill="#979797"/>
<rect x="134.5" y="547.7" width="3.5" height="5.0" fill="#979797"/>
<rect x="160.7" y="510.9" width="3.4" height="2.6" fill="#a9a9a9"/>
<rect x="156.2" y="507.6" width="3.9" height="5.6" fill="#a9a9a9"/>
<rect x="161.6" y="510.2" width="6.0" height="5.8" fill="#a9a9a9"/>
<rect x="157.8" y="509.3" width="4.0" height="4.2" fill="#a9a9a9"/>
<rect x="156.1" y="513.1" width="4.3" height="5.8" fill="#a9a9a9"/>
<rect x="148.4" y="510.0" width="5.9" height="5.4" fill="#a9a9a9"/>
</g>
<g filter="url(#blob2)">
<ellipse cx="155.5" cy="531.9" rx="3.2" ry="3" fill="#949494" stroke="#5b5b5b" stroke-width="0.7"/>
<circle cx="156.4" cy="531" r="1.1" fill="#b2b2b2"/>
</g>
</g>
<line x1="153.30" y1="557.90" x2="180.80" y2="557.90" stroke="#1a1a1a" stroke-width="1.0"/>
<text x="167.05" y="556.60" font-size="4.3" text-anchor="middle" textLength="16.20" lengthAdjust="spacingAndGlyphs" fill="#333" stroke="#333" stroke-width="0.1">100 μm</text>
<clipPath id="m13"><rect x="184.4" y="505" width="56.40" height="54.40"/></clipPath>
<g clip-path="url(#m13)">
<rect x="184.40" y="505.00" width="56.40" height="54.40" fill="#c4c2c2" stroke="none" stroke-width="0.8"/>
<g filter="url(#blob)" opacity="0.9">
<rect x="202.6" y="518.6" width="4.7" height="4.1" fill="#cdc7c7"/>
<rect x="201.0" y="515.8" width="4.3" height="2.9" fill="#cdc7c7"/>
<rect x="192.0" y="509.1" width="4.1" height="3.4" fill="#cdc7c7"/>
<rect x="187.4" y="517.1" width="5.2" height="4.4" fill="#cdc7c7"/>
<rect x="206.9" y="511.7" width="5.1" height="3.3" fill="#cdc7c7"/>
<rect x="198.5" y="511.8" width="5.2" height="4.7" fill="#cdc7c7"/>
<rect x="194.6" y="519.1" width="4.9" height="4.5" fill="#cdc7c7"/>
<rect x="189.2" y="509.3" width="5.1" height="3.2" fill="#cdc7c7"/>
<rect x="201.1" y="512.6" width="5.7" height="5.6" fill="#cdc7c7"/>
<rect x="198.5" y="514.7" width="3.4" height="4.0" fill="#cdc7c7"/>
<rect x="203.4" y="518.9" width="4.4" height="2.8" fill="#cdc7c7"/>
<rect x="194.2" y="511.3" width="4.4" height="4.7" fill="#cdc7c7"/>
<rect x="189.1" y="514.9" width="3.2" height="3.7" fill="#cdc7c7"/>
<rect x="202.1" y="507.9" width="2.8" height="2.9" fill="#cdc7c7"/>
<rect x="219.0" y="511.2" width="5.2" height="3.2" fill="#b1b1b1"/>
<rect x="225.0" y="527.6" width="5.3" height="3.8" fill="#b1b1b1"/>
<rect x="234.2" y="518.1" width="3.6" height="4.4" fill="#b1b1b1"/>
<rect x="233.6" y="513.7" width="4.0" height="3.8" fill="#b1b1b1"/>
<rect x="228.8" y="516.7" width="2.8" height="2.8" fill="#b1b1b1"/>
<rect x="218.1" y="520.2" width="4.9" height="3.5" fill="#b1b1b1"/>
<rect x="234.2" y="523.9" width="3.2" height="4.8" fill="#b1b1b1"/>
<rect x="224.5" y="522.0" width="5.0" height="4.9" fill="#b1b1b1"/>
<rect x="229.4" y="523.9" width="3.8" height="5.0" fill="#b1b1b1"/>
<rect x="230.0" y="524.0" width="5.0" height="4.5" fill="#b1b1b1"/>
<rect x="234.1" y="514.4" width="5.7" height="4.0" fill="#b1b1b1"/>
<rect x="223.2" y="530.0" width="3.6" height="3.9" fill="#b1b1b1"/>
<rect x="233.9" y="511.4" width="3.4" height="3.8" fill="#b1b1b1"/>
<rect x="222.1" y="525.0" width="3.9" height="3.9" fill="#b1b1b1"/>
<rect x="221.3" y="516.6" width="5.3" height="4.4" fill="#b1b1b1"/>
<rect x="218.0" y="513.9" width="3.1" height="5.2" fill="#b1b1b1"/>
<rect x="224.9" y="530.8" width="2.6" height="4.3" fill="#b1b1b1"/>
<rect x="218.3" y="514.7" width="5.9" height="4.8" fill="#b1b1b1"/>
<rect x="235.4" y="548.5" width="4.4" height="5.3" fill="#b5b5b5"/>
<rect x="230.5" y="546.5" width="5.1" height="5.6" fill="#b5b5b5"/>
<rect x="227.9" y="543.5" width="3.0" height="5.1" fill="#b5b5b5"/>
<rect x="229.5" y="552.7" width="3.3" height="5.2" fill="#b5b5b5"/>
<rect x="229.6" y="539.7" width="3.9" height="3.7" fill="#b5b5b5"/>
<rect x="225.2" y="538.0" width="4.2" height="4.4" fill="#b5b5b5"/>
<rect x="226.4" y="538.7" width="5.7" height="3.9" fill="#b5b5b5"/>
<rect x="224.6" y="538.3" width="5.5" height="5.3" fill="#b5b5b5"/>
<rect x="233.7" y="540.3" width="5.9" height="4.7" fill="#b5b5b5"/>
<rect x="226.9" y="539.7" width="5.3" height="4.0" fill="#b5b5b5"/>
<rect x="202.6" y="547.7" width="5.1" height="6.0" fill="#cac8c8"/>
<rect x="202.3" y="548.8" width="3.2" height="4.0" fill="#cac8c8"/>
<rect x="205.5" y="543.3" width="2.7" height="3.6" fill="#cac8c8"/>
<rect x="194.8" y="542.0" width="5.2" height="3.1" fill="#cac8c8"/>
<rect x="194.6" y="543.7" width="4.5" height="5.7" fill="#cac8c8"/>
<rect x="200.4" y="545.5" width="3.1" height="3.3" fill="#cac8c8"/>
<rect x="196.4" y="540.1" width="4.6" height="3.3" fill="#cac8c8"/>
<rect x="197.4" y="547.2" width="3.1" height="5.2" fill="#cac8c8"/>
<rect x="190.4" y="542.4" width="5.4" height="4.2" fill="#cac8c8"/>
<rect x="202.2" y="541.2" width="5.7" height="3.7" fill="#cac8c8"/>
<rect x="207.2" y="542.6" width="4.2" height="3.3" fill="#cac8c8"/>
<rect x="200.1" y="543.4" width="5.3" height="3.8" fill="#cac8c8"/>
<rect x="208.7" y="529.4" width="3.5" height="6.0" fill="#cfcdcd"/>
<rect x="213.0" y="538.2" width="2.5" height="4.2" fill="#cfcdcd"/>
<rect x="212.4" y="525.4" width="5.0" height="4.6" fill="#cfcdcd"/>
<rect x="213.3" y="534.3" width="3.6" height="3.4" fill="#cfcdcd"/>
<rect x="207.0" y="529.2" width="4.7" height="6.0" fill="#cfcdcd"/>
<rect x="210.0" y="529.4" width="3.0" height="5.2" fill="#cfcdcd"/>
<rect x="211.3" y="530.0" width="5.5" height="5.4" fill="#cfcdcd"/>
<rect x="211.3" y="534.1" width="5.0" height="2.8" fill="#cfcdcd"/>
<rect x="213.6" y="506.1" width="5.8" height="4.6" fill="#bbbbbb"/>
<rect x="216.9" y="508.6" width="5.3" height="4.0" fill="#bbbbbb"/>
<rect x="225.7" y="507.9" width="5.4" height="3.2" fill="#bbbbbb"/>
<rect x="214.7" y="504.9" width="3.1" height="5.4" fill="#bbbbbb"/>
<rect x="219.0" y="507.8" width="2.8" height="3.6" fill="#bbbbbb"/>
<rect x="218.9" y="503.5" width="3.8" height="4.9" fill="#bbbbbb"/>
<rect x="186.9" y="531.1" width="4.1" height="5.9" fill="#c9c4c4"/>
<rect x="186.7" y="522.6" width="2.5" height="3.8" fill="#c9c4c4"/>
<rect x="188.0" y="538.3" width="4.5" height="4.1" fill="#c9c4c4"/>
<rect x="187.8" y="530.3" width="5.3" height="3.2" fill="#c9c4c4"/>
<rect x="187.3" y="537.4" width="3.8" height="4.4" fill="#c9c4c4"/>
<rect x="186.9" y="534.2" width="3.9" height="4.8" fill="#c9c4c4"/>
</g>
<g filter="url(#blob2)">
<circle cx="209.3" cy="536.3" r="1.4" fill="#8f8f8f"/>
<circle cx="197.4" cy="530.4" r="1.2" fill="#999"/>
<circle cx="221.8" cy="520.3" r="1.1" fill="#8a8a8a"/>
<circle cx="225.5" cy="527.8" r="0.9" fill="#999"/>
<circle cx="191.6" cy="540.5" r="0.9" fill="#a3a3a3"/>
<circle cx="201" cy="553" r="0.9" fill="#e4e4e4"/>
</g>
</g>
<line x1="212.50" y1="558.00" x2="239.40" y2="558.00" stroke="#1a1a1a" stroke-width="1.0"/>
<text x="225.95" y="556.70" font-size="4.3" text-anchor="middle" textLength="16.20" lengthAdjust="spacingAndGlyphs" fill="#333" stroke="#333" stroke-width="0.1">100 μm</text>
<clipPath id="m21"><rect x="65.8" y="561.9" width="56.70" height="51.70"/></clipPath>
<g clip-path="url(#m21)">
<rect x="65.80" y="561.90" width="56.70" height="51.70" fill="#919191" stroke="none" stroke-width="0.8"/>
<g filter="url(#blob)" opacity="0.9">
<rect x="99.7" y="572.2" width="5.1" height="3.7" fill="#9b9b9b"/>
<rect x="78.1" y="581.8" width="5.0" height="3.7" fill="#9b9b9b"/>
<rect x="111.7" y="565.2" width="3.0" height="2.8" fill="#9b9b9b"/>
<rect x="90.3" y="571.4" width="3.1" height="3.9" fill="#9b9b9b"/>
<rect x="81.3" y="579.8" width="2.8" height="3.3" fill="#9b9b9b"/>
<rect x="101.9" y="570.3" width="3.9" height="2.8" fill="#9b9b9b"/>
<rect x="81.4" y="584.1" width="4.3" height="4.8" fill="#9b9b9b"/>
<rect x="100.7" y="564.2" width="3.9" height="3.7" fill="#9b9b9b"/>
<rect x="107.8" y="563.8" width="3.9" height="4.9" fill="#9b9b9b"/>
<rect x="97.3" y="564.7" width="4.8" height="4.6" fill="#9b9b9b"/>
<rect x="95.3" y="572.9" width="3.7" height="4.8" fill="#9b9b9b"/>
<rect x="92.2" y="575.2" width="4.3" height="5.3" fill="#9b9b9b"/>
<rect x="82.2" y="577.6" width="3.1" height="5.2" fill="#9b9b9b"/>
<rect x="78.9" y="582.0" width="3.7" height="4.3" fill="#9b9b9b"/>
<rect x="92.4" y="571.4" width="6.0" height="4.3" fill="#9b9b9b"/>
<rect x="102.2" y="562.7" width="3.2" height="5.8" fill="#9b9b9b"/>
<rect x="103.3" y="572.3" width="2.8" height="3.4" fill="#9b9b9b"/>
<rect x="89.6" y="571.2" width="3.7" height="5.8" fill="#9b9b9b"/>
<rect x="69.1" y="598.8" width="2.9" height="5.9" fill="#8a8a8a"/>
<rect x="79.3" y="590.3" width="4.4" height="4.5" fill="#8a8a8a"/>
<rect x="76.0" y="596.1" width="5.7" height="6.0" fill="#8a8a8a"/>
<rect x="65.7" y="598.1" width="2.9" height="5.4" fill="#8a8a8a"/>
<rect x="81.3" y="588.8" width="3.3" height="4.5" fill="#8a8a8a"/>
<rect x="82.4" y="594.1" width="4.4" height="2.8" fill="#8a8a8a"/>
<rect x="76.4" y="593.0" width="6.0" height="5.8" fill="#8a8a8a"/>
<rect x="73.5" y="598.6" width="4.8" height="5.1" fill="#8a8a8a"/>
<rect x="67.7" y="598.3" width="5.3" height="2.6" fill="#8a8a8a"/>
<rect x="70.9" y="598.3" width="3.0" height="3.9" fill="#8a8a8a"/>
<rect x="81.9" y="593.4" width="4.3" height="3.4" fill="#8a8a8a"/>
<rect x="72.2" y="600.2" width="4.7" height="2.6" fill="#8a8a8a"/>
<rect x="111.6" y="605.5" width="5.9" height="4.6" fill="#959595"/>
<rect x="102.4" y="602.8" width="4.7" height="4.9" fill="#959595"/>
<rect x="108.0" y="591.2" width="4.2" height="6.0" fill="#959595"/>
<rect x="113.1" y="593.5" width="3.9" height="4.0" fill="#959595"/>
<rect x="113.4" y="596.0" width="4.3" height="4.3" fill="#959595"/>
<rect x="113.1" y="597.3" width="3.6" height="2.7" fill="#959595"/>
<rect x="113.7" y="595.2" width="5.1" height="4.6" fill="#959595"/>
<rect x="105.1" y="608.0" width="4.6" height="2.7" fill="#959595"/>
<rect x="104.9" y="601.1" width="4.3" height="3.9" fill="#959595"/>
<rect x="107.1" y="598.4" width="4.3" height="3.3" fill="#959595"/>
<rect x="69.7" y="573.0" width="3.3" height="2.7" fill="#8c8c8c"/>
<rect x="77.2" y="567.8" width="4.8" height="5.5" fill="#8c8c8c"/>
<rect x="73.7" y="565.2" width="3.3" height="5.1" fill="#8c8c8c"/>
<rect x="76.3" y="566.4" width="2.8" height="5.3" fill="#8c8c8c"/>
<rect x="69.0" y="570.2" width="5.8" height="2.5" fill="#8c8c8c"/>
<rect x="71.3" y="573.9" width="3.6" height="2.7" fill="#8c8c8c"/>
<rect x="112.3" y="569.2" width="3.9" height="3.7" fill="#8d8d8d"/>
<rect x="115.1" y="576.9" width="2.6" height="5.6" fill="#8d8d8d"/>
<rect x="105.8" y="575.1" width="5.8" height="5.9" fill="#8d8d8d"/>
<rect x="111.3" y="580.4" width="3.5" height="5.7" fill="#8d8d8d"/>
<rect x="111.2" y="583.3" width="5.4" height="3.7" fill="#8d8d8d"/>
<rect x="111.2" y="579.9" width="5.6" height="6.0" fill="#8d8d8d"/>
</g>
<g filter="url(#blob2)">
<path d="M88.5 592.5 q1 -5 5.5 -4.6 q3.4 -1.6 5 1.6 q1.8 3 0.2 6.3 q0.6 3.2 -2.6 3.6 q-2.6 0.4 -3.3 -2.2 q-3 1.2 -4.4 -0.9 q-1.5 -1.7 -0.4 -3.8z" fill="#7c7c7c" stroke="#5a5a5a" stroke-width="0.6"/>
<circle cx="97.6" cy="599.8" r="1" fill="#c9c9c9"/>
<circle cx="95.2" cy="602" r="0.8" fill="#bdbdbd"/>
<ellipse cx="93.6" cy="593" rx="1.8" ry="1.5" fill="#8e8e8e"/>
</g>
</g>
<line x1="94.80" y1="611.90" x2="121.40" y2="611.90" stroke="#1a1a1a" stroke-width="1.0"/>
<text x="108.10" y="610.60" font-size="4.3" text-anchor="middle" textLength="16.20" lengthAdjust="spacingAndGlyphs" fill="#333" stroke="#333" stroke-width="0.1">100 μm</text>
<clipPath id="m22"><rect x="124.8" y="561.9" width="57.00" height="51.70"/></clipPath>
<g clip-path="url(#m22)">
<rect x="124.80" y="561.90" width="57.00" height="51.70" fill="#a7a7a7" stroke="none" stroke-width="0.8"/>
<g filter="url(#blob)" opacity="0.9">
<rect x="135.7" y="569.2" width="3.2" height="5.6" fill="#989898"/>
<rect x="139.1" y="573.0" width="5.0" height="3.6" fill="#989898"/>
<rect x="143.3" y="568.4" width="5.0" height="3.0" fill="#989898"/>
<rect x="144.9" y="570.7" width="4.1" height="2.8" fill="#989898"/>
<rect x="136.0" y="575.1" width="5.0" height="3.2" fill="#989898"/>
<rect x="137.9" y="573.9" width="4.8" height="5.3" fill="#989898"/>
<rect x="134.3" y="568.6" width="5.6" height="4.6" fill="#989898"/>
<rect x="135.8" y="574.3" width="5.7" height="4.8" fill="#989898"/>
<rect x="135.6" y="568.6" width="2.8" height="5.9" fill="#989898"/>
<rect x="131.9" y="572.0" width="4.4" height="2.7" fill="#989898"/>
<rect x="136.8" y="575.9" width="3.4" height="5.3" fill="#989898"/>
<rect x="136.8" y="574.0" width="5.1" height="3.4" fill="#989898"/>
<rect x="163.4" y="566.2" width="3.2" height="5.6" fill="#a0a0a0"/>
<rect x="177.7" y="568.7" width="4.1" height="5.1" fill="#a0a0a0"/>
<rect x="173.5" y="566.8" width="4.2" height="3.1" fill="#a0a0a0"/>
<rect x="163.5" y="564.1" width="3.8" height="4.8" fill="#a0a0a0"/>
<rect x="159.1" y="566.7" width="4.3" height="5.5" fill="#a0a0a0"/>
<rect x="158.9" y="567.8" width="5.8" height="3.1" fill="#a0a0a0"/>
<rect x="172.2" y="572.9" width="4.6" height="3.3" fill="#a0a0a0"/>
<rect x="168.3" y="563.4" width="5.3" height="5.3" fill="#a0a0a0"/>
<rect x="144.5" y="583.9" width="3.3" height="4.5" fill="#9b9b9b"/>
<rect x="153.2" y="584.3" width="4.6" height="5.0" fill="#9b9b9b"/>
<rect x="152.7" y="581.8" width="3.1" height="3.0" fill="#9b9b9b"/>
<rect x="146.9" y="584.0" width="4.0" height="4.0" fill="#9b9b9b"/>
<rect x="149.9" y="580.7" width="2.8" height="5.7" fill="#9b9b9b"/>
<rect x="141.6" y="583.3" width="5.3" height="3.3" fill="#9b9b9b"/>
<rect x="147.5" y="586.0" width="2.6" height="3.6" fill="#9b9b9b"/>
<rect x="142.1" y="583.1" width="3.4" height="4.6" fill="#9b9b9b"/>
<rect x="171.5" y="593.6" width="3.1" height="3.4" fill="#a1a1a1"/>
<rect x="168.1" y="591.7" width="5.4" height="5.3" fill="#a1a1a1"/>
<rect x="168.4" y="597.7" width="3.8" height="3.3" fill="#a1a1a1"/>
<rect x="177.5" y="598.0" width="4.2" height="5.2" fill="#a1a1a1"/>
<rect x="174.8" y="603.3" width="4.1" height="5.1" fill="#a1a1a1"/>
<rect x="169.3" y="598.5" width="5.6" height="3.0" fill="#a1a1a1"/>
<rect x="168.5" y="602.6" width="4.0" height="2.8" fill="#a1a1a1"/>
<rect x="170.9" y="595.4" width="5.2" height="5.1" fill="#a1a1a1"/>
<rect x="169.7" y="601.1" width="4.4" height="3.3" fill="#a1a1a1"/>
<rect x="175.1" y="593.4" width="3.8" height="3.7" fill="#a1a1a1"/>
<rect x="128.6" y="595.0" width="2.6" height="3.9" fill="#adadad"/>
<rect x="140.2" y="601.9" width="3.7" height="4.9" fill="#adadad"/>
<rect x="126.9" y="595.9" width="5.6" height="4.1" fill="#adadad"/>
<rect x="136.9" y="595.2" width="3.8" height="5.2" fill="#adadad"/>
<rect x="132.3" y="602.8" width="3.1" height="4.4" fill="#adadad"/>
<rect x="135.3" y="603.0" width="3.3" height="4.1" fill="#adadad"/>
<rect x="128.8" y="601.0" width="6.0" height="4.9" fill="#adadad"/>
<rect x="136.2" y="607.8" width="3.8" height="2.8" fill="#adadad"/>
<rect x="129.9" y="605.8" width="3.5" height="2.6" fill="#adadad"/>
<rect x="133.8" y="602.5" width="3.9" height="5.7" fill="#adadad"/>
<rect x="157.2" y="608.7" width="3.8" height="3.0" fill="#b2b2b2"/>
<rect x="151.9" y="607.2" width="5.2" height="5.0" fill="#b2b2b2"/>
<rect x="166.7" y="604.7" width="3.6" height="3.8" fill="#b2b2b2"/>
<rect x="160.1" y="602.4" width="3.6" height="5.2" fill="#b2b2b2"/>
<rect x="164.2" y="605.6" width="3.9" height="3.3" fill="#b2b2b2"/>
<rect x="158.8" y="605.5" width="4.6" height="2.6" fill="#b2b2b2"/>
<rect x="153.3" y="605.8" width="4.4" height="3.0" fill="#b2b2b2"/>
<rect x="157.0" y="607.8" width="5.0" height="4.8" fill="#b2b2b2"/>
<rect x="167.0" y="581.0" width="3.5" height="5.0" fill="#afafaf"/>
<rect x="161.9" y="582.0" width="5.5" height="3.3" fill="#afafaf"/>
<rect x="164.2" y="582.5" width="3.3" height="2.6" fill="#afafaf"/>
<rect x="165.0" y="578.9" width="4.5" height="5.3" fill="#afafaf"/>
<rect x="163.5" y="582.9" width="4.8" height="5.7" fill="#afafaf"/>
<rect x="164.4" y="577.4" width="4.8" height="5.8" fill="#afafaf"/>
</g>
<g filter="url(#blob2)">
<path d="M147 594 l3 -2 l2.4 1.2 l2 -2.4 l2.6 1 l1.4 2.6 l-1.8 2.2 l1.2 2.4 l-2.8 1.6 l-2.2 -1.2 l-2.6 1.8 l-1.8 -2.4 l1 -2.2z" fill="#b9b9b9" stroke="#8a8a8a" stroke-width="0.5"/>
<circle cx="152.4" cy="596" r="0.9" fill="#dcdcdc"/>
<circle cx="155.6" cy="598.4" r="0.8" fill="#d4d4d4"/>
<circle cx="150.2" cy="599" r="0.7" fill="#8b8b8b"/>
<circle cx="157.2" cy="594.2" r="0.7" fill="#8d8d8d"/>
</g>
</g>
<line x1="153.30" y1="611.90" x2="180.80" y2="611.90" stroke="#1a1a1a" stroke-width="1.0"/>
<text x="167.05" y="610.60" font-size="4.3" text-anchor="middle" textLength="16.20" lengthAdjust="spacingAndGlyphs" fill="#333" stroke="#333" stroke-width="0.1">100 μm</text>
<clipPath id="m23"><rect x="184.4" y="561.9" width="56.40" height="51.70"/></clipPath>
<g clip-path="url(#m23)">
<rect x="184.40" y="561.90" width="56.40" height="51.70" fill="#8f8f8f" stroke="none" stroke-width="0.8"/>
<g filter="url(#blob)" opacity="0.9">
<rect x="198.8" y="577.1" width="4.7" height="2.8" fill="#969696"/>
<rect x="192.0" y="572.9" width="2.7" height="3.8" fill="#969696"/>
<rect x="190.8" y="570.5" width="3.5" height="3.1" fill="#969696"/>
<rect x="190.3" y="570.3" width="3.1" height="4.8" fill="#969696"/>
<rect x="203.5" y="571.9" width="3.7" height="4.0" fill="#969696"/>
<rect x="193.1" y="568.4" width="5.0" height="4.4" fill="#969696"/>
<rect x="208.8" y="571.0" width="3.9" height="3.8" fill="#969696"/>
<rect x="196.0" y="570.9" width="2.7" height="4.2" fill="#969696"/>
<rect x="188.4" y="571.3" width="3.6" height="3.4" fill="#969696"/>
<rect x="196.0" y="570.6" width="5.6" height="4.5" fill="#969696"/>
<rect x="223.9" y="570.4" width="3.2" height="4.1" fill="#898989"/>
<rect x="233.6" y="572.0" width="3.8" height="4.5" fill="#898989"/>
<rect x="227.0" y="566.0" width="4.7" height="4.7" fill="#898989"/>
<rect x="220.7" y="575.9" width="3.5" height="5.4" fill="#898989"/>
<rect x="218.2" y="579.8" width="5.7" height="2.6" fill="#898989"/>
<rect x="222.5" y="574.0" width="3.6" height="3.8" fill="#898989"/>
<rect x="232.2" y="580.7" width="3.2" height="3.3" fill="#898989"/>
<rect x="227.5" y="580.4" width="2.5" height="4.4" fill="#898989"/>
<rect x="226.3" y="578.6" width="4.2" height="4.8" fill="#898989"/>
<rect x="220.5" y="569.1" width="4.5" height="5.4" fill="#898989"/>
<rect x="202.2" y="602.0" width="3.7" height="5.6" fill="#8a8a8a"/>
<rect x="206.1" y="591.2" width="4.9" height="4.9" fill="#8a8a8a"/>
<rect x="213.8" y="588.7" width="3.1" height="4.7" fill="#8a8a8a"/>
<rect x="200.4" y="594.1" width="3.8" height="3.5" fill="#8a8a8a"/>
<rect x="198.2" y="594.8" width="3.3" height="3.4" fill="#8a8a8a"/>
<rect x="210.8" y="600.6" width="4.3" height="2.9" fill="#8a8a8a"/>
<rect x="211.3" y="596.4" width="2.9" height="5.0" fill="#8a8a8a"/>
<rect x="203.6" y="596.7" width="5.2" height="4.2" fill="#8a8a8a"/>
<rect x="210.5" y="594.3" width="5.5" height="2.7" fill="#8a8a8a"/>
<rect x="201.3" y="595.9" width="5.3" height="3.9" fill="#8a8a8a"/>
<rect x="229.4" y="607.1" width="5.0" height="3.6" fill="#949494"/>
<rect x="229.5" y="596.3" width="5.4" height="5.4" fill="#949494"/>
<rect x="224.9" y="603.2" width="5.0" height="4.7" fill="#949494"/>
<rect x="232.5" y="595.0" width="2.9" height="3.8" fill="#949494"/>
<rect x="231.1" y="607.4" width="3.1" height="2.5" fill="#949494"/>
<rect x="234.0" y="599.6" width="5.9" height="3.0" fill="#949494"/>
<rect x="188.3" y="590.5" width="4.7" height="3.9" fill="#929292"/>
<rect x="199.4" y="587.1" width="2.7" height="5.0" fill="#929292"/>
<rect x="195.2" y="588.0" width="3.5" height="5.1" fill="#929292"/>
<rect x="197.5" y="592.8" width="3.7" height="2.6" fill="#929292"/>
<rect x="188.7" y="588.7" width="3.8" height="3.6" fill="#929292"/>
</g>
<g filter="url(#blob2)">
<circle cx="207.5" cy="580.5" r="0.9" fill="#7e7e7e"/>
<circle cx="219.4" cy="590.3" r="0.8" fill="#808080"/>
</g>
</g>
<line x1="212.50" y1="611.90" x2="239.40" y2="611.90" stroke="#1a1a1a" stroke-width="1.0"/>
<text x="225.95" y="610.60" font-size="4.3" text-anchor="middle" textLength="16.20" lengthAdjust="spacingAndGlyphs" fill="#333" stroke="#333" stroke-width="0.1">100 μm</text>
<text x="276.90" y="558.00" font-size="9.6" text-anchor="middle" textLength="76.00" lengthAdjust="spacingAndGlyphs" fill="#2b2b2b" stroke="#2b2b2b" stroke-width="0.22" transform="rotate(-90 276.90 558.00)">Tumorspheres, <tspan font-style="italic">n</tspan></text>
<line x1="298.40" y1="518.70" x2="298.40" y2="598.20" stroke="#2a2627" stroke-width="0.9"/>
<line x1="295.90" y1="519.00" x2="298.40" y2="519.00" stroke="#2a2627" stroke-width="0.8"/>
<text x="295.00" y="521.05" font-size="7.6" text-anchor="end" textLength="7.52" lengthAdjust="spacingAndGlyphs" fill="#333" stroke="#333" stroke-width="0.22">60</text>
<line x1="295.90" y1="532.10" x2="298.40" y2="532.10" stroke="#2a2627" stroke-width="0.8"/>
<text x="295.00" y="534.15" font-size="7.6" text-anchor="end" textLength="7.52" lengthAdjust="spacingAndGlyphs" fill="#333" stroke="#333" stroke-width="0.22">50</text>
<line x1="295.90" y1="545.30" x2="298.40" y2="545.30" stroke="#2a2627" stroke-width="0.8"/>
<text x="295.00" y="547.35" font-size="7.6" text-anchor="end" textLength="7.52" lengthAdjust="spacingAndGlyphs" fill="#333" stroke="#333" stroke-width="0.22">40</text>
<line x1="295.90" y1="558.40" x2="298.40" y2="558.40" stroke="#2a2627" stroke-width="0.8"/>
<text x="295.00" y="560.45" font-size="7.6" text-anchor="end" textLength="7.52" lengthAdjust="spacingAndGlyphs" fill="#333" stroke="#333" stroke-width="0.22">30</text>
<line x1="295.90" y1="571.50" x2="298.40" y2="571.50" stroke="#2a2627" stroke-width="0.8"/>
<text x="295.00" y="573.55" font-size="7.6" text-anchor="end" textLength="7.52" lengthAdjust="spacingAndGlyphs" fill="#333" stroke="#333" stroke-width="0.22">20</text>
<line x1="295.90" y1="584.60" x2="298.40" y2="584.60" stroke="#2a2627" stroke-width="0.8"/>
<text x="295.00" y="586.65" font-size="7.6" text-anchor="end" textLength="7.52" lengthAdjust="spacingAndGlyphs" fill="#333" stroke="#333" stroke-width="0.22">10</text>
<line x1="295.90" y1="597.70" x2="298.40" y2="597.70" stroke="#2a2627" stroke-width="0.8"/>
<text x="295.00" y="599.75" font-size="7.6" text-anchor="end" textLength="3.76" lengthAdjust="spacingAndGlyphs" fill="#333" stroke="#333" stroke-width="0.22">0</text>
<line x1="298.00" y1="598.00" x2="375.40" y2="598.00" stroke="#2a2627" stroke-width="0.9"/>
<line x1="311.50" y1="598.00" x2="311.50" y2="600.50" stroke="#2a2627" stroke-width="0.8"/>
<line x1="336.60" y1="598.00" x2="336.60" y2="600.50" stroke="#2a2627" stroke-width="0.8"/>
<line x1="362.90" y1="598.00" x2="362.90" y2="600.50" stroke="#2a2627" stroke-width="0.8"/>
<line x1="375.00" y1="598.00" x2="375.00" y2="600.50" stroke="#2a2627" stroke-width="0.8"/>
<line x1="311.50" y1="521.80" x2="311.50" y2="529.80" stroke="#2a2627" stroke-width="0.8"/>
<line x1="309.20" y1="521.80" x2="313.80" y2="521.80" stroke="#2a2627" stroke-width="0.8"/>
<rect x="303.00" y="529.80" width="17.00" height="68.10" fill="#1c1320" stroke="#18121a" stroke-width="0.9"/>
<line x1="336.60" y1="540.30" x2="336.60" y2="551.50" stroke="#2a2627" stroke-width="0.8"/>
<line x1="334.30" y1="540.30" x2="338.90" y2="540.30" stroke="#2a2627" stroke-width="0.8"/>
<rect x="328.20" y="551.50" width="16.80" height="46.40" fill="#1c1320" stroke="#18121a" stroke-width="0.9"/>
<line x1="362.90" y1="578.50" x2="362.90" y2="586.00" stroke="#2a2627" stroke-width="0.8"/>
<line x1="360.60" y1="578.50" x2="365.20" y2="578.50" stroke="#2a2627" stroke-width="0.8"/>
<rect x="354.50" y="586.00" width="16.80" height="11.90" fill="#1c1320" stroke="#18121a" stroke-width="0.9"/>
<text x="362.90" y="577.80" font-size="5.0" font-weight="bold" text-anchor="middle" textLength="5.00" lengthAdjust="spacing" fill="#3a3a3a" stroke="#3a3a3a" stroke-width="0.1">**</text>
<text x="327.00" y="518.00" font-size="9.2" font-weight="bold" textLength="16.00" lengthAdjust="spacingAndGlyphs" fill="#0e0e0e" stroke="#0e0e0e" stroke-width="0.3">42D</text>
<text x="344.20" y="515.10" font-size="4.4" font-weight="bold" textLength="11.20" lengthAdjust="spacingAndGlyphs" fill="#1c1c1c" stroke="#1c1c1c" stroke-width="0.15">ENZR</text>
<text x="311.30" y="606.20" font-size="7.6" text-anchor="middle" textLength="3.80" lengthAdjust="spacingAndGlyphs" fill="#333" stroke="#333" stroke-width="0.22">0</text>
<text x="337.00" y="606.20" font-size="7.6" text-anchor="middle" textLength="7.61" lengthAdjust="spacingAndGlyphs" fill="#333" stroke="#333" stroke-width="0.22">10</text>
<text x="362.60" y="606.20" font-size="7.6" text-anchor="middle" textLength="11.41" lengthAdjust="spacingAndGlyphs" fill="#333" stroke="#333" stroke-width="0.22">100</text>
<text x="310.00" y="617.60" font-size="9.2" font-weight="bold" textLength="58.00" lengthAdjust="spacingAndGlyphs" fill="#111" stroke="#111" stroke-width="0.18">Mon (nmol/L)</text>
<text x="387.70" y="558.00" font-size="9.6" text-anchor="middle" textLength="76.00" lengthAdjust="spacingAndGlyphs" fill="#2b2b2b" stroke="#2b2b2b" stroke-width="0.22" transform="rotate(-90 387.70 558.00)">Tumorspheres, <tspan font-style="italic">n</tspan></text>
<line x1="403.00" y1="518.20" x2="403.00" y2="598.20" stroke="#2a2627" stroke-width="0.9"/>
<line x1="400.50" y1="518.60" x2="403.00" y2="518.60" stroke="#2a2627" stroke-width="0.8"/>
<text x="399.60" y="520.65" font-size="7.6" text-anchor="end" textLength="7.52" lengthAdjust="spacingAndGlyphs" fill="#333" stroke="#333" stroke-width="0.22">30</text>
<line x1="400.50" y1="531.80" x2="403.00" y2="531.80" stroke="#2a2627" stroke-width="0.8"/>
<text x="399.60" y="533.85" font-size="7.6" text-anchor="end" textLength="7.52" lengthAdjust="spacingAndGlyphs" fill="#333" stroke="#333" stroke-width="0.22">25</text>
<line x1="400.50" y1="545.00" x2="403.00" y2="545.00" stroke="#2a2627" stroke-width="0.8"/>
<text x="399.60" y="547.05" font-size="7.6" text-anchor="end" textLength="7.52" lengthAdjust="spacingAndGlyphs" fill="#333" stroke="#333" stroke-width="0.22">20</text>
<line x1="400.50" y1="558.20" x2="403.00" y2="558.20" stroke="#2a2627" stroke-width="0.8"/>
<text x="399.60" y="560.25" font-size="7.6" text-anchor="end" textLength="7.52" lengthAdjust="spacingAndGlyphs" fill="#333" stroke="#333" stroke-width="0.22">15</text>
<line x1="400.50" y1="571.30" x2="403.00" y2="571.30" stroke="#2a2627" stroke-width="0.8"/>
<text x="399.60" y="573.35" font-size="7.6" text-anchor="end" textLength="7.52" lengthAdjust="spacingAndGlyphs" fill="#333" stroke="#333" stroke-width="0.22">10</text>
<line x1="400.50" y1="584.50" x2="403.00" y2="584.50" stroke="#2a2627" stroke-width="0.8"/>
<text x="399.60" y="586.55" font-size="7.6" text-anchor="end" textLength="3.76" lengthAdjust="spacingAndGlyphs" fill="#333" stroke="#333" stroke-width="0.22">5</text>
<line x1="400.50" y1="597.70" x2="403.00" y2="597.70" stroke="#2a2627" stroke-width="0.8"/>
<text x="399.60" y="599.75" font-size="7.6" text-anchor="end" textLength="3.76" lengthAdjust="spacingAndGlyphs" fill="#333" stroke="#333" stroke-width="0.22">0</text>
<line x1="402.60" y1="598.00" x2="480.90" y2="598.00" stroke="#2a2627" stroke-width="0.9"/>
<line x1="416.90" y1="598.00" x2="416.90" y2="600.50" stroke="#2a2627" stroke-width="0.8"/>
<line x1="442.20" y1="598.00" x2="442.20" y2="600.50" stroke="#2a2627" stroke-width="0.8"/>
<line x1="467.60" y1="598.00" x2="467.60" y2="600.50" stroke="#2a2627" stroke-width="0.8"/>
<line x1="480.50" y1="598.00" x2="480.50" y2="600.50" stroke="#2a2627" stroke-width="0.8"/>
<line x1="416.85" y1="523.50" x2="416.85" y2="534.00" stroke="#2a2627" stroke-width="0.8"/>
<line x1="414.55" y1="523.50" x2="419.15" y2="523.50" stroke="#2a2627" stroke-width="0.8"/>
<rect x="408.20" y="534.00" width="17.30" height="63.90" fill="#fbe78d" stroke="#18121a" stroke-width="0.9"/>
<line x1="442.30" y1="559.80" x2="442.30" y2="566.00" stroke="#2a2627" stroke-width="0.8"/>
<line x1="440.00" y1="559.80" x2="444.60" y2="559.80" stroke="#2a2627" stroke-width="0.8"/>
<rect x="433.80" y="566.00" width="17.00" height="31.90" fill="#fbe78d" stroke="#18121a" stroke-width="0.9"/>
<text x="442.30" y="559.10" font-size="5.0" font-weight="bold" text-anchor="middle" textLength="5.00" lengthAdjust="spacing" fill="#3a3a3a" stroke="#3a3a3a" stroke-width="0.1">**</text>
<line x1="467.65" y1="585.30" x2="467.65" y2="589.30" stroke="#2a2627" stroke-width="0.8"/>
<line x1="465.35" y1="585.30" x2="469.95" y2="585.30" stroke="#2a2627" stroke-width="0.8"/>
<rect x="459.50" y="589.30" width="16.30" height="8.60" fill="#fbe78d" stroke="#18121a" stroke-width="0.9"/>
<text x="467.65" y="584.80" font-size="5.0" font-weight="bold" text-anchor="middle" textLength="7.50" lengthAdjust="spacing" fill="#3a3a3a" stroke="#3a3a3a" stroke-width="0.1">***</text>
<text x="432.50" y="517.70" font-size="9.2" font-weight="bold" textLength="15.20" lengthAdjust="spacingAndGlyphs" fill="#0e0e0e" stroke="#0e0e0e" stroke-width="0.3">42F</text>
<text x="448.90" y="514.80" font-size="4.4" font-weight="bold" textLength="11.20" lengthAdjust="spacingAndGlyphs" fill="#1c1c1c" stroke="#1c1c1c" stroke-width="0.15">ENZR</text>
<text x="417.00" y="606.20" font-size="7.6" text-anchor="middle" textLength="3.80" lengthAdjust="spacingAndGlyphs" fill="#333" stroke="#333" stroke-width="0.22">0</text>
<text x="442.00" y="606.20" font-size="7.6" text-anchor="middle" textLength="7.61" lengthAdjust="spacingAndGlyphs" fill="#333" stroke="#333" stroke-width="0.22">10</text>
<text x="468.20" y="606.20" font-size="7.6" text-anchor="middle" textLength="11.41" lengthAdjust="spacingAndGlyphs" fill="#333" stroke="#333" stroke-width="0.22">100</text>
<text x="415.00" y="617.60" font-size="9.2" font-weight="bold" textLength="58.20" lengthAdjust="spacingAndGlyphs" fill="#111" stroke="#111" stroke-width="0.18">Mon (nmol/L)</text>
</g>
</g>
</svg></body></html>
